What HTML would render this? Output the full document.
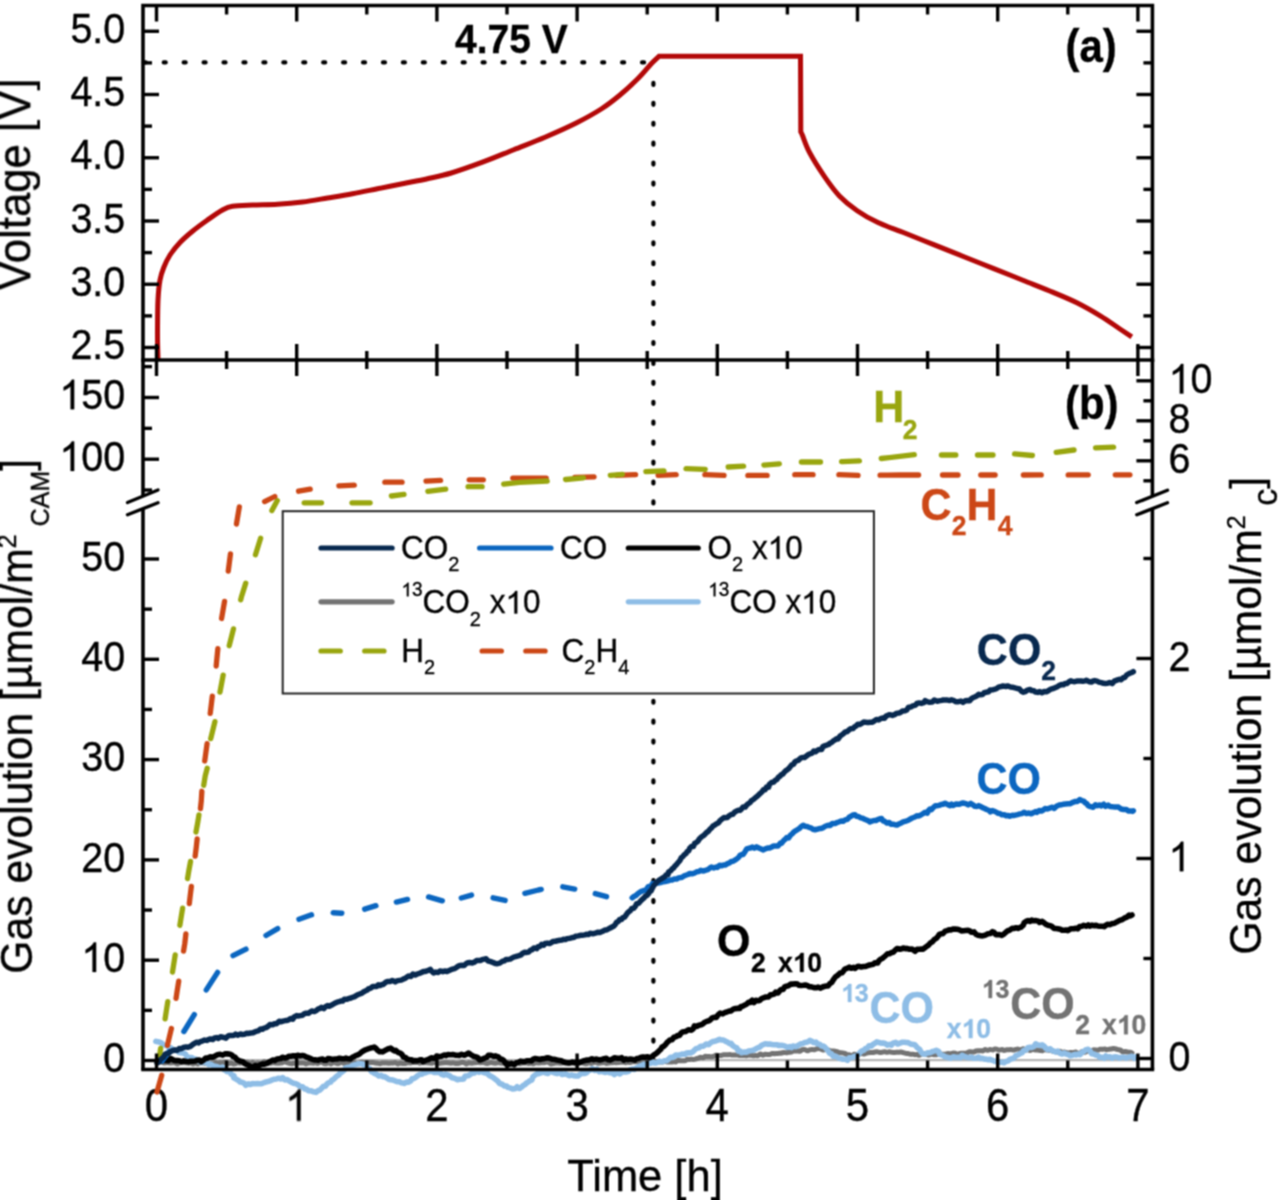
<!DOCTYPE html>
<html><head><meta charset="utf-8"><style>
html,body{margin:0;padding:0;background:#fff;}
svg{display:block;font-family:"Liberation Sans", sans-serif;}
</style></head><body>
<svg width="1280" height="1200" viewBox="0 0 1280 1200">
<defs><filter id="bl" filterUnits="userSpaceOnUse" x="0" y="0" width="1280" height="1200" color-interpolation-filters="sRGB"><feConvolveMatrix order="3" kernelMatrix="1 2 1 2 4 2 1 2 1" edgeMode="duplicate"/></filter></defs>
<rect width="1280" height="1200" fill="#fff"/>
<g filter="url(#bl)">
<text stroke="#000" stroke-width="0.35" transform="matrix(1,0,0,1.085,0,-3.651)" x="125.30" y="42.95" font-size="39.5" text-anchor="end" font-weight="normal" fill="#000" >5.0</text>
<text stroke="#000" stroke-width="0.35" transform="matrix(1,0,0,1.085,0,-9.027)" x="125.30" y="106.20" font-size="39.5" text-anchor="end" font-weight="normal" fill="#000" >4.5</text>
<text stroke="#000" stroke-width="0.35" transform="matrix(1,0,0,1.085,0,-14.403)" x="125.30" y="169.45" font-size="39.5" text-anchor="end" font-weight="normal" fill="#000" >4.0</text>
<text stroke="#000" stroke-width="0.35" transform="matrix(1,0,0,1.085,0,-19.779)" x="125.30" y="232.70" font-size="39.5" text-anchor="end" font-weight="normal" fill="#000" >3.5</text>
<text stroke="#000" stroke-width="0.35" transform="matrix(1,0,0,1.085,0,-25.156)" x="125.30" y="295.95" font-size="39.5" text-anchor="end" font-weight="normal" fill="#000" >3.0</text>
<text stroke="#000" stroke-width="0.35" transform="matrix(1,0,0,1.085,0,-30.532)" x="125.30" y="359.20" font-size="39.5" text-anchor="end" font-weight="normal" fill="#000" >2.5</text>
<text stroke="#000" stroke-width="0.35" transform="matrix(1,0,0,1.085,0,-34.782)" x="125.30" y="409.20" font-size="39.5" text-anchor="end" font-weight="normal" fill="#000" > 50</text>
<text stroke="#000" stroke-width="0.35" transform="matrix(1,0,0,1.085,0,-40.026)" x="125.30" y="470.90" font-size="39.5" text-anchor="end" font-weight="normal" fill="#000" > 00</text>
<text stroke="#000" stroke-width="0.35" transform="matrix(1,0,0,1.085,0,-48.509)" x="125.30" y="570.70" font-size="39.5" text-anchor="end" font-weight="normal" fill="#000" >50</text>
<text stroke="#000" stroke-width="0.35" transform="matrix(1,0,0,1.085,0,-57.035)" x="125.30" y="671.00" font-size="39.5" text-anchor="end" font-weight="normal" fill="#000" >40</text>
<text stroke="#000" stroke-width="0.35" transform="matrix(1,0,0,1.085,0,-65.560)" x="125.30" y="771.30" font-size="39.5" text-anchor="end" font-weight="normal" fill="#000" >30</text>
<text stroke="#000" stroke-width="0.35" transform="matrix(1,0,0,1.085,0,-74.086)" x="125.30" y="871.60" font-size="39.5" text-anchor="end" font-weight="normal" fill="#000" >20</text>
<text stroke="#000" stroke-width="0.35" transform="matrix(1,0,0,1.085,0,-82.611)" x="125.30" y="971.90" font-size="39.5" text-anchor="end" font-weight="normal" fill="#000" > 0</text>
<text stroke="#000" stroke-width="0.35" transform="matrix(1,0,0,1.085,0,-91.137)" x="125.30" y="1072.20" font-size="39.5" text-anchor="end" font-weight="normal" fill="#000" >0</text>
<text stroke="#000" stroke-width="0.35" transform="matrix(1,0,0,1.085,0,-33.447)" x="1168.60" y="393.50" font-size="39.5" text-anchor="start" font-weight="normal" fill="#000" > 0</text>
<text stroke="#000" stroke-width="0.35" transform="matrix(1,0,0,1.085,0,-36.847)" x="1168.60" y="433.50" font-size="39.5" text-anchor="start" font-weight="normal" fill="#000" >8</text>
<text stroke="#000" stroke-width="0.35" transform="matrix(1,0,0,1.085,0,-40.247)" x="1168.60" y="473.50" font-size="39.5" text-anchor="start" font-weight="normal" fill="#000" >6</text>
<text stroke="#000" stroke-width="0.35" transform="matrix(1,0,0,1.085,0,-57.052)" x="1168.60" y="671.20" font-size="39.5" text-anchor="start" font-weight="normal" fill="#000" >2</text>
<text stroke="#000" stroke-width="0.35" transform="matrix(1,0,0,1.085,0,-74.052)" x="1168.60" y="871.20" font-size="39.5" text-anchor="start" font-weight="normal" fill="#000" > </text>
<text stroke="#000" stroke-width="0.35" transform="matrix(1,0,0,1.085,0,-91.052)" x="1168.60" y="1071.20" font-size="39.5" text-anchor="start" font-weight="normal" fill="#000" >0</text>
<text stroke="#000" stroke-width="0.35" transform="matrix(1,0,0,1.085,0,-95.268)" x="156.50" y="1120.80" font-size="42" text-anchor="middle" font-weight="normal" fill="#000" >0</text>
<text stroke="#000" stroke-width="0.35" transform="matrix(1,0,0,1.085,0,-95.268)" x="296.70" y="1120.80" font-size="42" text-anchor="middle" font-weight="normal" fill="#000" > </text>
<text stroke="#000" stroke-width="0.35" transform="matrix(1,0,0,1.085,0,-95.268)" x="436.90" y="1120.80" font-size="42" text-anchor="middle" font-weight="normal" fill="#000" >2</text>
<text stroke="#000" stroke-width="0.35" transform="matrix(1,0,0,1.085,0,-95.268)" x="577.10" y="1120.80" font-size="42" text-anchor="middle" font-weight="normal" fill="#000" >3</text>
<text stroke="#000" stroke-width="0.35" transform="matrix(1,0,0,1.085,0,-95.268)" x="717.30" y="1120.80" font-size="42" text-anchor="middle" font-weight="normal" fill="#000" >4</text>
<text stroke="#000" stroke-width="0.35" transform="matrix(1,0,0,1.085,0,-95.268)" x="857.50" y="1120.80" font-size="42" text-anchor="middle" font-weight="normal" fill="#000" >5</text>
<text stroke="#000" stroke-width="0.35" transform="matrix(1,0,0,1.085,0,-95.268)" x="997.70" y="1120.80" font-size="42" text-anchor="middle" font-weight="normal" fill="#000" >6</text>
<text stroke="#000" stroke-width="0.35" transform="matrix(1,0,0,1.085,0,-95.268)" x="1137.90" y="1120.80" font-size="42" text-anchor="middle" font-weight="normal" fill="#000" >7</text>
<text stroke="#000" stroke-width="0.35" transform="matrix(1,0,0,1.04,0,-47.648)" x="645.00" y="1191.20" font-size="43.5" text-anchor="middle" font-weight="normal" fill="#000" >Time [h]</text>
<text stroke="#000" stroke-width="0.35" transform="translate(29.8,184.3) rotate(-90) scale(1,1.04)" x="0" y="0" font-size="43.8" text-anchor="middle">Voltage [V]</text>
<text stroke="#000" stroke-width="0.35" transform="translate(31.5,973.8) rotate(-90) scale(1,1.04)" x="0" y="0" font-size="42.7">Gas evolution [µmol/m<tspan font-size="25" dy="-15">2</tspan><tspan font-size="25" dy="31.3" dx="8">CAM</tspan><tspan dy="-16.3">]</tspan></text>
<text stroke="#000" stroke-width="0.35" transform="translate(1261,954.7) rotate(-90) scale(1,1.04)" x="0" y="0" font-size="42.7">Gas evolution [µmol/m<tspan font-size="25" dy="-15.75">2</tspan><tspan font-size="34" dy="30.75" dx="9.5">c</tspan><tspan dy="-15">]</tspan></text>
<line x1="143.8" y1="62.4" x2="650" y2="62.4" stroke="#000" stroke-width="4.2" stroke-linecap="round" stroke-dasharray="2 17.93"/>
<line x1="653.4" y1="82.9" x2="653.4" y2="1066" stroke="#000" stroke-width="4.2" stroke-linecap="round" stroke-dasharray="2 17.93"/>
<path d="M158.00,359.00 C157.93,356.67 157.68,349.83 157.60,345.00 C157.52,340.17 157.43,337.50 157.50,330.00 C157.57,322.50 157.58,308.33 158.00,300.00 C158.42,291.67 159.04,285.42 160.00,280.00 C160.96,274.58 162.08,271.67 163.75,267.50 C165.42,263.33 167.29,259.17 170.00,255.00 C172.71,250.83 176.25,246.46 180.00,242.50 C183.75,238.54 187.92,235.00 192.50,231.25 C197.08,227.50 202.50,223.54 207.50,220.00 C212.50,216.46 218.33,212.29 222.50,210.00 C226.67,207.71 227.50,207.08 232.50,206.25 C237.50,205.42 245.00,205.33 252.50,205.00 C260.00,204.67 269.17,204.75 277.50,204.25 C285.83,203.75 294.17,203.04 302.50,202.00 C310.83,200.96 319.17,199.38 327.50,198.00 C335.83,196.62 344.17,195.29 352.50,193.75 C360.83,192.21 369.17,190.42 377.50,188.75 C385.83,187.08 394.17,185.42 402.50,183.75 C410.83,182.08 419.38,180.54 427.50,178.75 C435.62,176.96 442.08,175.76 451.25,173.00 C460.42,170.24 472.08,166.08 482.50,162.20 C492.92,158.32 503.33,153.87 513.75,149.70 C524.17,145.53 534.58,141.65 545.00,137.20 C555.42,132.75 566.88,127.70 576.25,123.00 C585.62,118.30 593.96,113.67 601.25,109.00 C608.54,104.33 613.75,100.20 620.00,95.00 C626.25,89.80 633.54,83.01 638.75,77.80 C643.96,72.59 647.88,67.33 651.25,63.75 C654.62,60.17 657.71,57.54 659.00,56.30 L800.5,56.3 L800.8,132 L800.80,132.00 C801.05,132.50 800.82,131.53 802.30,135.00 C803.78,138.47 806.00,145.87 809.70,152.80 C813.40,159.73 819.55,169.42 824.50,176.60 C829.45,183.78 833.95,190.22 839.40,195.90 C844.85,201.58 850.77,206.25 857.20,210.70 C863.63,215.15 870.08,218.88 878.00,222.60 C885.92,226.32 895.30,229.28 904.70,233.00 C914.10,236.72 924.52,240.95 934.40,244.90 C944.28,248.85 954.10,252.75 964.00,256.70 C973.90,260.65 983.88,264.63 993.80,268.60 C1003.72,272.57 1013.60,276.53 1023.50,280.50 C1033.40,284.47 1044.30,288.68 1053.20,292.40 C1062.10,296.12 1068.98,298.85 1076.90,302.80 C1084.82,306.75 1093.77,311.90 1100.70,316.10 C1107.63,320.30 1113.32,324.53 1118.50,328.00 C1123.68,331.47 1129.58,335.42 1131.80,336.90" fill="none" stroke="#b30808" stroke-width="5.0" stroke-linecap="butt" stroke-linejoin="miter" />
<line x1="157.00" y1="1060.20" x2="1138.00" y2="1060.20" stroke="#b5b5b5" stroke-width="2.2" stroke-linecap="butt" />
<path d="M156.73,1062.48 C157.18,1062.40 158.62,1062.05 159.41,1061.97 C160.21,1061.88 160.72,1061.80 161.49,1061.98 C162.26,1062.17 163.23,1062.96 164.04,1063.09 C164.85,1063.22 165.63,1062.81 166.36,1062.77 C167.09,1062.74 167.73,1062.82 168.41,1062.87 C169.08,1062.92 169.72,1063.07 170.41,1063.07 C171.11,1063.06 171.75,1062.85 172.56,1062.84 C173.37,1062.83 174.48,1062.84 175.26,1063.03 C176.05,1063.22 176.55,1064.03 177.28,1063.99 C178.01,1063.94 178.87,1062.94 179.64,1062.74 C180.42,1062.53 181.19,1062.75 181.93,1062.76 C182.67,1062.78 183.25,1062.80 184.07,1062.84 C184.90,1062.88 186.10,1062.93 186.88,1063.01 C187.65,1063.09 187.97,1063.32 188.72,1063.30 C189.48,1063.28 190.68,1062.76 191.40,1062.90 C192.13,1063.03 192.45,1064.12 193.07,1064.11 C193.69,1064.10 194.34,1062.85 195.15,1062.83 C195.95,1062.82 197.11,1064.18 197.89,1064.03 C198.66,1063.87 199.04,1062.12 199.79,1061.91 C200.53,1061.70 201.61,1062.55 202.37,1062.77 C203.13,1062.98 203.63,1063.15 204.36,1063.21 C205.08,1063.27 205.98,1063.07 206.72,1063.13 C207.46,1063.19 208.00,1063.60 208.79,1063.58 C209.58,1063.56 210.71,1063.06 211.45,1063.01 C212.19,1062.97 212.53,1063.41 213.23,1063.33 C213.93,1063.25 214.92,1062.51 215.66,1062.53 C216.40,1062.56 216.96,1063.42 217.67,1063.47 C218.39,1063.53 219.21,1062.93 219.98,1062.85 C220.74,1062.77 221.53,1063.11 222.27,1062.98 C223.01,1062.86 223.65,1062.11 224.44,1062.13 C225.24,1062.15 226.35,1062.87 227.06,1063.09 C227.77,1063.31 228.00,1063.45 228.69,1063.44 C229.38,1063.43 230.37,1062.91 231.18,1063.01 C231.99,1063.10 232.82,1063.90 233.57,1064.02 C234.32,1064.13 234.90,1063.96 235.68,1063.71 C236.46,1063.47 237.56,1062.60 238.26,1062.54 C238.96,1062.48 239.29,1063.29 239.88,1063.35 C240.48,1063.41 241.03,1062.86 241.84,1062.88 C242.65,1062.90 243.91,1063.59 244.74,1063.47 C245.56,1063.35 246.02,1062.18 246.80,1062.15 C247.58,1062.11 248.67,1063.07 249.42,1063.25 C250.17,1063.43 250.70,1063.37 251.28,1063.22 C251.87,1063.07 252.28,1062.25 252.95,1062.35 C253.61,1062.46 254.51,1063.77 255.28,1063.86 C256.06,1063.95 256.81,1062.99 257.59,1062.89 C258.37,1062.79 259.15,1063.22 259.94,1063.26 C260.73,1063.30 261.63,1063.40 262.33,1063.12 C263.04,1062.84 263.43,1061.59 264.16,1061.59 C264.89,1061.59 265.87,1062.89 266.70,1063.12 C267.54,1063.35 268.45,1062.94 269.17,1062.95 C269.88,1062.96 270.34,1063.26 270.97,1063.18 C271.61,1063.11 272.26,1062.54 272.98,1062.53 C273.71,1062.52 274.45,1062.99 275.33,1063.13 C276.21,1063.26 277.43,1063.35 278.25,1063.34 C279.07,1063.34 279.58,1063.20 280.26,1063.11 C280.93,1063.02 281.60,1063.00 282.29,1062.80 C282.97,1062.60 283.70,1061.97 284.38,1061.91 C285.07,1061.84 285.61,1062.19 286.40,1062.42 C287.18,1062.65 288.25,1063.09 289.08,1063.30 C289.91,1063.51 290.67,1063.67 291.37,1063.70 C292.07,1063.73 292.49,1063.59 293.26,1063.47 C294.04,1063.36 295.20,1063.09 296.00,1063.00 C296.79,1062.90 297.42,1062.92 298.02,1062.93 C298.63,1062.94 298.97,1063.03 299.64,1063.05 C300.31,1063.07 301.25,1063.03 302.04,1063.05 C302.82,1063.06 303.65,1063.00 304.34,1063.14 C305.03,1063.29 305.38,1063.99 306.19,1063.94 C306.99,1063.89 308.41,1063.00 309.19,1062.84 C309.98,1062.69 310.19,1062.94 310.91,1063.00 C311.62,1063.06 312.70,1063.34 313.49,1063.19 C314.28,1063.04 314.97,1062.04 315.65,1062.11 C316.32,1062.18 316.79,1063.57 317.52,1063.60 C318.26,1063.64 319.30,1062.52 320.05,1062.32 C320.80,1062.11 321.33,1062.15 322.03,1062.35 C322.72,1062.55 323.45,1063.34 324.21,1063.53 C324.98,1063.73 325.83,1063.71 326.62,1063.51 C327.40,1063.31 328.21,1062.23 328.93,1062.32 C329.66,1062.41 330.26,1064.01 330.96,1064.04 C331.67,1064.08 332.35,1062.69 333.16,1062.52 C333.97,1062.35 335.07,1062.85 335.84,1063.04 C336.61,1063.23 337.15,1063.65 337.78,1063.67 C338.40,1063.70 338.90,1063.41 339.60,1063.19 C340.30,1062.97 341.20,1062.30 341.98,1062.36 C342.76,1062.41 343.48,1063.56 344.26,1063.53 C345.03,1063.50 345.90,1062.13 346.63,1062.16 C347.36,1062.19 347.85,1063.64 348.63,1063.70 C349.42,1063.76 350.47,1062.64 351.35,1062.50 C352.22,1062.35 353.23,1062.76 353.89,1062.83 C354.55,1062.90 354.60,1062.79 355.28,1062.94 C355.96,1063.09 357.17,1063.76 357.99,1063.74 C358.82,1063.72 359.55,1063.04 360.24,1062.80 C360.92,1062.57 361.39,1062.34 362.09,1062.33 C362.79,1062.32 363.66,1062.71 364.43,1062.73 C365.20,1062.74 366.00,1062.44 366.72,1062.42 C367.45,1062.40 368.08,1062.59 368.77,1062.59 C369.46,1062.60 370.11,1062.48 370.83,1062.46 C371.56,1062.43 372.29,1062.36 373.10,1062.46 C373.91,1062.55 374.96,1062.92 375.69,1063.05 C376.42,1063.18 376.74,1063.13 377.47,1063.24 C378.20,1063.34 379.28,1063.73 380.07,1063.67 C380.85,1063.62 381.47,1063.01 382.18,1062.90 C382.88,1062.80 383.52,1063.03 384.29,1063.06 C385.05,1063.09 386.02,1063.05 386.78,1063.08 C387.54,1063.11 388.11,1063.25 388.83,1063.26 C389.56,1063.27 390.42,1063.14 391.13,1063.11 C391.85,1063.09 392.42,1063.18 393.12,1063.10 C393.82,1063.01 394.54,1062.47 395.33,1062.61 C396.11,1062.76 397.00,1063.90 397.81,1063.97 C398.63,1064.03 399.50,1063.09 400.23,1063.00 C400.96,1062.92 401.43,1063.36 402.18,1063.45 C402.94,1063.55 404.02,1063.62 404.76,1063.56 C405.50,1063.50 405.95,1063.20 406.62,1063.09 C407.30,1062.97 408.10,1062.90 408.81,1062.87 C409.53,1062.83 410.24,1062.96 410.91,1062.89 C411.59,1062.82 412.05,1062.50 412.84,1062.45 C413.63,1062.40 414.81,1062.58 415.65,1062.57 C416.50,1062.57 417.19,1062.30 417.90,1062.40 C418.61,1062.51 419.23,1063.14 419.92,1063.18 C420.60,1063.23 421.13,1062.75 421.98,1062.67 C422.83,1062.59 424.26,1062.68 425.01,1062.69 C425.77,1062.70 425.86,1062.69 426.50,1062.74 C427.15,1062.79 428.09,1062.88 428.90,1062.99 C429.70,1063.09 430.61,1063.39 431.34,1063.36 C432.06,1063.34 432.59,1063.01 433.24,1062.84 C433.89,1062.66 434.50,1062.23 435.23,1062.31 C435.96,1062.39 436.81,1063.16 437.61,1063.34 C438.41,1063.51 439.22,1063.44 440.03,1063.37 C440.83,1063.30 441.62,1063.03 442.44,1062.92 C443.26,1062.82 444.25,1062.78 444.93,1062.76 C445.61,1062.74 445.82,1062.77 446.52,1062.80 C447.23,1062.83 448.41,1062.87 449.15,1062.94 C449.89,1063.00 450.20,1063.20 450.94,1063.20 C451.68,1063.20 452.83,1062.90 453.59,1062.95 C454.35,1063.00 454.76,1063.42 455.50,1063.50 C456.23,1063.58 457.28,1063.50 458.00,1063.43 C458.73,1063.37 459.11,1063.34 459.82,1063.13 C460.54,1062.92 461.49,1062.19 462.31,1062.17 C463.12,1062.16 464.01,1062.73 464.72,1063.05 C465.43,1063.36 465.89,1064.10 466.59,1064.04 C467.29,1063.98 468.17,1062.80 468.92,1062.67 C469.67,1062.54 470.33,1063.21 471.10,1063.26 C471.86,1063.31 472.81,1063.07 473.52,1062.97 C474.23,1062.88 474.68,1062.76 475.36,1062.68 C476.04,1062.60 476.82,1062.50 477.59,1062.52 C478.36,1062.53 479.22,1062.76 480.00,1062.77 C480.77,1062.79 481.53,1062.60 482.23,1062.62 C482.94,1062.64 483.52,1062.76 484.25,1062.91 C484.97,1063.07 485.85,1063.50 486.59,1063.53 C487.33,1063.56 487.93,1063.28 488.68,1063.09 C489.43,1062.91 490.30,1062.40 491.10,1062.40 C491.90,1062.40 492.84,1062.93 493.50,1063.08 C494.16,1063.22 494.32,1063.35 495.07,1063.28 C495.82,1063.20 497.11,1062.67 497.99,1062.63 C498.88,1062.60 499.73,1062.97 500.39,1063.07 C501.05,1063.18 501.30,1063.37 501.96,1063.26 C502.62,1063.14 503.66,1062.41 504.36,1062.39 C505.06,1062.36 505.45,1062.96 506.17,1063.11 C506.90,1063.26 507.88,1063.35 508.72,1063.30 C509.56,1063.24 510.45,1062.68 511.20,1062.76 C511.95,1062.85 512.42,1063.71 513.21,1063.81 C514.00,1063.91 515.20,1063.56 515.95,1063.35 C516.69,1063.13 517.04,1062.48 517.70,1062.55 C518.36,1062.62 519.14,1063.71 519.91,1063.76 C520.68,1063.82 521.62,1062.98 522.33,1062.87 C523.04,1062.75 523.47,1063.05 524.16,1063.08 C524.85,1063.10 525.65,1062.94 526.47,1063.01 C527.28,1063.07 528.28,1063.52 529.06,1063.49 C529.84,1063.46 530.42,1062.79 531.14,1062.84 C531.86,1062.90 532.64,1063.91 533.39,1063.83 C534.14,1063.75 534.85,1062.48 535.64,1062.36 C536.43,1062.24 537.27,1063.04 538.13,1063.12 C538.99,1063.19 540.12,1062.83 540.80,1062.79 C541.48,1062.74 541.58,1062.87 542.20,1062.86 C542.82,1062.86 543.84,1062.86 544.53,1062.73 C545.22,1062.61 545.61,1062.11 546.33,1062.12 C547.05,1062.12 548.09,1062.46 548.86,1062.76 C549.64,1063.07 550.20,1063.85 550.98,1063.97 C551.75,1064.09 552.77,1063.64 553.52,1063.50 C554.26,1063.36 554.74,1063.24 555.44,1063.14 C556.14,1063.04 556.94,1062.88 557.73,1062.91 C558.52,1062.93 559.41,1063.25 560.17,1063.28 C560.93,1063.30 561.63,1063.17 562.29,1063.07 C562.95,1062.97 563.37,1062.70 564.11,1062.66 C564.86,1062.62 565.99,1062.75 566.75,1062.83 C567.52,1062.92 568.02,1063.19 568.71,1063.16 C569.40,1063.14 570.10,1062.75 570.90,1062.69 C571.70,1062.64 572.70,1062.74 573.54,1062.84 C574.37,1062.93 575.14,1063.13 575.88,1063.24 C576.62,1063.35 577.36,1063.56 577.96,1063.52 C578.57,1063.47 578.85,1063.09 579.51,1062.96 C580.17,1062.84 581.11,1062.69 581.93,1062.79 C582.75,1062.89 583.63,1063.41 584.42,1063.57 C585.21,1063.73 585.93,1063.85 586.66,1063.75 C587.38,1063.65 588.02,1063.03 588.77,1062.97 C589.51,1062.92 590.37,1063.47 591.13,1063.43 C591.89,1063.39 592.60,1062.90 593.32,1062.72 C594.05,1062.54 594.69,1062.26 595.48,1062.36 C596.27,1062.46 597.30,1063.21 598.07,1063.34 C598.83,1063.47 599.41,1063.22 600.10,1063.13 C600.78,1063.03 601.38,1062.86 602.16,1062.77 C602.94,1062.67 604.02,1062.41 604.78,1062.54 C605.54,1062.67 605.93,1063.50 606.72,1063.57 C607.52,1063.63 608.74,1063.06 609.56,1062.93 C610.37,1062.81 610.86,1062.91 611.62,1062.84 C612.38,1062.76 613.38,1062.49 614.12,1062.50 C614.87,1062.50 615.35,1062.87 616.12,1062.87 C616.89,1062.87 617.96,1062.58 618.73,1062.49 C619.50,1062.40 620.07,1062.37 620.75,1062.33 C621.44,1062.28 622.09,1062.12 622.85,1062.20 C623.61,1062.29 624.55,1062.87 625.32,1062.85 C626.08,1062.84 626.69,1062.18 627.44,1062.13 C628.19,1062.07 628.99,1062.58 629.81,1062.51 C630.63,1062.44 631.56,1061.85 632.36,1061.73 C633.15,1061.61 633.81,1061.79 634.58,1061.80 C635.35,1061.80 636.25,1061.76 636.96,1061.76 C637.67,1061.77 638.12,1061.85 638.85,1061.83 C639.59,1061.81 640.57,1061.60 641.39,1061.65 C642.20,1061.70 642.98,1062.04 643.75,1062.12 C644.52,1062.20 645.22,1062.20 646.02,1062.12 C646.82,1062.04 647.76,1061.66 648.53,1061.63 C649.31,1061.59 650.00,1061.83 650.67,1061.90 C651.33,1061.97 651.79,1062.12 652.54,1062.05 C653.28,1061.99 654.32,1061.54 655.16,1061.51 C656.00,1061.47 656.75,1061.76 657.57,1061.84 C658.39,1061.91 659.31,1061.94 660.07,1061.97 C660.84,1062.00 661.40,1062.10 662.18,1062.02 C662.96,1061.94 663.96,1061.50 664.76,1061.49 C665.56,1061.48 666.22,1061.92 667.00,1061.99 C667.77,1062.06 668.65,1061.89 669.43,1061.90 C670.21,1061.91 670.85,1062.09 671.69,1062.06 C672.54,1062.02 673.80,1061.72 674.50,1061.70 C675.20,1061.69 675.24,1062.21 675.88,1061.97 C676.52,1061.73 677.63,1060.47 678.35,1060.27 C679.06,1060.07 679.37,1060.70 680.18,1060.78 C680.98,1060.85 682.37,1060.76 683.19,1060.73 C684.01,1060.71 684.40,1060.85 685.10,1060.63 C685.80,1060.40 686.64,1059.60 687.40,1059.40 C688.17,1059.21 688.92,1059.49 689.67,1059.46 C690.42,1059.43 691.24,1059.24 691.91,1059.24 C692.57,1059.24 692.92,1059.54 693.64,1059.46 C694.36,1059.38 695.44,1058.95 696.24,1058.74 C697.04,1058.53 697.67,1058.48 698.43,1058.22 C699.19,1057.95 700.01,1057.19 700.80,1057.13 C701.59,1057.06 702.46,1057.96 703.17,1057.82 C703.88,1057.68 704.36,1056.50 705.06,1056.28 C705.77,1056.07 706.62,1056.49 707.41,1056.54 C708.20,1056.60 708.98,1056.60 709.81,1056.61 C710.64,1056.62 711.66,1056.69 712.39,1056.60 C713.12,1056.51 713.63,1056.30 714.21,1056.08 C714.78,1055.86 715.13,1055.40 715.85,1055.29 C716.57,1055.19 717.67,1055.43 718.54,1055.45 C719.41,1055.47 720.25,1055.51 721.07,1055.40 C721.89,1055.29 722.71,1054.88 723.46,1054.79 C724.21,1054.70 724.85,1054.83 725.57,1054.84 C726.28,1054.85 727.02,1054.89 727.75,1054.84 C728.48,1054.80 729.17,1054.56 729.94,1054.60 C730.70,1054.63 731.55,1055.03 732.33,1055.08 C733.12,1055.13 733.78,1054.87 734.65,1054.88 C735.53,1054.89 736.80,1055.04 737.60,1055.14 C738.41,1055.24 738.83,1055.42 739.48,1055.46 C740.12,1055.51 740.68,1055.43 741.47,1055.42 C742.26,1055.41 743.35,1055.37 744.21,1055.42 C745.06,1055.46 745.80,1055.73 746.60,1055.69 C747.40,1055.65 748.23,1055.23 748.99,1055.17 C749.75,1055.11 750.38,1055.24 751.16,1055.34 C751.94,1055.43 752.96,1055.73 753.68,1055.76 C754.40,1055.79 754.76,1055.53 755.46,1055.51 C756.16,1055.49 757.06,1055.91 757.87,1055.66 C758.69,1055.41 759.57,1054.07 760.37,1054.00 C761.18,1053.92 761.90,1055.16 762.71,1055.20 C763.52,1055.24 764.40,1054.33 765.22,1054.22 C766.05,1054.10 766.82,1054.48 767.65,1054.52 C768.47,1054.55 769.41,1054.61 770.18,1054.43 C770.95,1054.24 771.54,1053.55 772.28,1053.43 C773.02,1053.30 773.84,1053.67 774.61,1053.68 C775.38,1053.69 776.18,1053.55 776.90,1053.49 C777.63,1053.43 778.19,1053.41 778.97,1053.33 C779.75,1053.24 780.76,1053.14 781.58,1053.00 C782.40,1052.86 783.11,1052.52 783.90,1052.48 C784.69,1052.43 785.55,1052.76 786.32,1052.73 C787.09,1052.70 787.79,1052.40 788.53,1052.30 C789.27,1052.19 789.98,1052.30 790.77,1052.11 C791.56,1051.91 792.43,1051.29 793.28,1051.12 C794.14,1050.94 795.10,1051.14 795.88,1051.06 C796.66,1050.98 797.31,1050.60 797.98,1050.64 C798.65,1050.68 799.19,1051.44 799.91,1051.29 C800.64,1051.14 801.49,1050.02 802.33,1049.74 C803.17,1049.47 804.11,1049.47 804.94,1049.65 C805.76,1049.83 806.51,1050.80 807.28,1050.83 C808.06,1050.86 808.77,1050.07 809.58,1049.85 C810.39,1049.62 811.35,1049.49 812.14,1049.47 C812.93,1049.44 813.57,1049.80 814.33,1049.70 C815.09,1049.60 815.89,1049.07 816.68,1048.86 C817.47,1048.65 818.27,1048.37 819.07,1048.46 C819.86,1048.54 820.66,1049.13 821.46,1049.38 C822.26,1049.64 823.05,1050.03 823.87,1049.99 C824.70,1049.96 825.68,1049.14 826.42,1049.17 C827.16,1049.19 827.60,1049.85 828.29,1050.13 C828.98,1050.41 829.77,1050.70 830.56,1050.86 C831.36,1051.01 832.33,1051.01 833.08,1051.06 C833.84,1051.11 834.30,1051.01 835.09,1051.16 C835.87,1051.31 836.96,1051.72 837.79,1051.98 C838.61,1052.23 839.24,1052.56 840.01,1052.71 C840.79,1052.86 841.57,1052.72 842.44,1052.88 C843.31,1053.03 844.40,1053.32 845.22,1053.64 C846.04,1053.95 846.59,1054.59 847.34,1054.79 C848.10,1054.99 849.04,1054.67 849.77,1054.86 C850.49,1055.04 850.92,1056.00 851.68,1055.90 C852.43,1055.79 853.58,1054.43 854.30,1054.21 C855.01,1053.99 855.24,1054.57 855.99,1054.58 C856.75,1054.59 857.93,1054.45 858.83,1054.27 C859.72,1054.09 860.45,1053.58 861.34,1053.52 C862.23,1053.46 863.36,1053.97 864.18,1053.91 C864.99,1053.86 865.61,1053.39 866.21,1053.20 C866.82,1053.00 867.09,1052.88 867.80,1052.74 C868.51,1052.61 869.63,1052.44 870.48,1052.40 C871.33,1052.35 872.15,1052.56 872.91,1052.50 C873.68,1052.44 874.30,1052.14 875.08,1052.04 C875.87,1051.93 876.83,1051.79 877.62,1051.87 C878.42,1051.94 879.01,1052.43 879.86,1052.47 C880.71,1052.51 881.90,1052.23 882.73,1052.11 C883.56,1051.98 884.13,1051.65 884.82,1051.69 C885.51,1051.73 886.11,1052.34 886.88,1052.35 C887.65,1052.35 888.63,1051.76 889.45,1051.74 C890.27,1051.73 890.99,1052.12 891.79,1052.26 C892.60,1052.41 893.51,1052.62 894.29,1052.62 C895.07,1052.61 895.73,1052.31 896.47,1052.25 C897.22,1052.20 898.03,1052.31 898.76,1052.28 C899.49,1052.25 900.14,1052.03 900.87,1052.07 C901.59,1052.12 902.30,1052.34 903.11,1052.56 C903.92,1052.78 904.95,1053.23 905.73,1053.39 C906.51,1053.56 907.00,1053.40 907.80,1053.54 C908.60,1053.67 909.71,1054.12 910.54,1054.22 C911.37,1054.32 912.02,1054.06 912.78,1054.14 C913.53,1054.21 914.34,1054.60 915.07,1054.68 C915.80,1054.76 916.44,1054.51 917.15,1054.60 C917.86,1054.70 918.45,1055.43 919.32,1055.26 C920.20,1055.08 921.54,1053.79 922.38,1053.56 C923.23,1053.33 923.72,1053.75 924.40,1053.87 C925.08,1054.00 925.70,1054.13 926.47,1054.32 C927.23,1054.50 928.18,1055.01 929.00,1054.96 C929.83,1054.91 930.61,1054.05 931.42,1054.01 C932.23,1053.96 933.03,1054.56 933.86,1054.68 C934.69,1054.80 935.67,1054.81 936.40,1054.72 C937.13,1054.63 937.48,1054.23 938.23,1054.13 C938.97,1054.03 939.99,1054.11 940.86,1054.12 C941.72,1054.14 942.63,1054.23 943.41,1054.22 C944.20,1054.22 944.82,1054.22 945.58,1054.09 C946.34,1053.96 947.09,1053.52 947.96,1053.47 C948.82,1053.42 950.01,1053.82 950.76,1053.76 C951.52,1053.70 951.78,1053.21 952.49,1053.11 C953.19,1053.01 954.16,1052.98 954.98,1053.16 C955.80,1053.34 956.61,1054.16 957.42,1054.18 C958.23,1054.21 959.01,1053.48 959.83,1053.34 C960.65,1053.20 961.57,1053.33 962.33,1053.33 C963.09,1053.33 963.67,1053.36 964.39,1053.32 C965.10,1053.29 965.90,1053.38 966.63,1053.13 C967.37,1052.88 967.96,1052.01 968.80,1051.81 C969.65,1051.61 970.87,1051.88 971.68,1051.92 C972.49,1051.96 972.96,1052.19 973.68,1052.04 C974.40,1051.89 975.21,1051.23 975.99,1051.02 C976.78,1050.81 977.58,1050.84 978.39,1050.77 C979.21,1050.71 980.12,1050.64 980.90,1050.65 C981.68,1050.66 982.36,1051.03 983.06,1050.83 C983.76,1050.64 984.30,1049.56 985.11,1049.48 C985.93,1049.40 987.12,1050.35 987.96,1050.35 C988.80,1050.35 989.36,1049.54 990.16,1049.48 C990.96,1049.43 991.93,1050.10 992.75,1050.02 C993.56,1049.94 994.31,1049.11 995.04,1048.99 C995.77,1048.88 996.43,1049.16 997.13,1049.34 C997.83,1049.51 998.44,1050.01 999.25,1050.05 C1000.07,1050.09 1001.19,1049.53 1002.00,1049.58 C1002.81,1049.64 1003.34,1050.38 1004.12,1050.40 C1004.90,1050.43 1005.85,1049.83 1006.66,1049.74 C1007.47,1049.65 1008.26,1049.87 1008.97,1049.84 C1009.68,1049.81 1010.14,1049.53 1010.92,1049.57 C1011.69,1049.60 1012.82,1050.09 1013.61,1050.07 C1014.39,1050.05 1014.88,1049.59 1015.63,1049.44 C1016.38,1049.28 1017.25,1049.03 1018.12,1049.12 C1018.98,1049.22 1019.99,1050.04 1020.84,1049.99 C1021.69,1049.95 1022.52,1048.73 1023.24,1048.83 C1023.95,1048.93 1024.43,1050.57 1025.12,1050.60 C1025.80,1050.62 1026.51,1049.00 1027.34,1048.99 C1028.16,1048.97 1029.16,1050.42 1030.05,1050.49 C1030.93,1050.56 1031.79,1049.49 1032.64,1049.42 C1033.48,1049.35 1034.30,1049.96 1035.12,1050.07 C1035.94,1050.19 1036.71,1050.04 1037.55,1050.12 C1038.40,1050.19 1039.35,1050.41 1040.18,1050.51 C1041.01,1050.60 1041.82,1050.83 1042.52,1050.69 C1043.23,1050.54 1043.70,1049.73 1044.41,1049.62 C1045.12,1049.50 1045.95,1049.87 1046.78,1050.00 C1047.61,1050.12 1048.74,1050.32 1049.39,1050.37 C1050.04,1050.42 1050.03,1050.10 1050.70,1050.29 C1051.37,1050.47 1052.58,1051.23 1053.42,1051.46 C1054.25,1051.69 1055.00,1051.56 1055.70,1051.68 C1056.39,1051.79 1056.91,1052.19 1057.60,1052.13 C1058.29,1052.07 1059.04,1051.29 1059.84,1051.33 C1060.65,1051.36 1061.69,1052.21 1062.42,1052.34 C1063.15,1052.47 1063.49,1052.04 1064.23,1052.10 C1064.98,1052.17 1066.16,1052.60 1066.89,1052.74 C1067.63,1052.88 1068.04,1052.95 1068.65,1052.93 C1069.26,1052.90 1069.74,1052.64 1070.53,1052.59 C1071.33,1052.53 1072.57,1052.70 1073.42,1052.61 C1074.26,1052.52 1074.86,1051.98 1075.58,1052.06 C1076.30,1052.14 1077.04,1052.94 1077.75,1053.10 C1078.45,1053.27 1079.05,1053.31 1079.79,1053.06 C1080.53,1052.80 1081.43,1051.67 1082.18,1051.55 C1082.93,1051.44 1083.62,1052.34 1084.31,1052.36 C1085.00,1052.38 1085.54,1051.96 1086.32,1051.67 C1087.09,1051.39 1088.17,1050.73 1088.96,1050.65 C1089.75,1050.57 1090.30,1051.30 1091.05,1051.17 C1091.81,1051.04 1092.70,1050.08 1093.49,1049.89 C1094.28,1049.70 1095.06,1050.00 1095.78,1050.04 C1096.50,1050.07 1097.07,1050.26 1097.80,1050.11 C1098.53,1049.96 1099.38,1049.30 1100.16,1049.16 C1100.94,1049.02 1101.72,1049.33 1102.50,1049.29 C1103.28,1049.26 1104.19,1048.88 1104.85,1048.95 C1105.51,1049.01 1105.72,1049.64 1106.46,1049.69 C1107.21,1049.73 1108.49,1049.35 1109.32,1049.23 C1110.15,1049.11 1110.70,1049.07 1111.44,1048.96 C1112.17,1048.85 1112.95,1048.56 1113.74,1048.58 C1114.52,1048.59 1115.45,1048.85 1116.17,1049.04 C1116.89,1049.22 1117.35,1049.50 1118.07,1049.69 C1118.79,1049.87 1119.68,1049.76 1120.50,1050.13 C1121.31,1050.50 1122.24,1051.69 1122.98,1051.91 C1123.71,1052.13 1124.14,1051.44 1124.90,1051.47 C1125.67,1051.49 1126.73,1051.91 1127.59,1052.04 C1128.44,1052.17 1129.31,1052.08 1130.04,1052.24 C1130.78,1052.40 1131.67,1052.87 1132.00,1053.00" fill="none" stroke="#737373" stroke-width="5.0" stroke-linecap="round" stroke-linejoin="round" />
<polyline points="155.9,1041.3 156.8,1041.6 159.9,1042.3 161.9,1043.3 162.8,1044.6 164.9,1045.1 166.6,1045.6 168.5,1047.1 170.5,1047.7 172.9,1049.7 175.0,1050.4 176.9,1050.6 178.9,1052.4 181.2,1052.7 183.0,1052.9 185.2,1053.8 187.1,1056.7 189.0,1057.4 191.8,1057.6 193.8,1058.9 195.7,1059.2 196.7,1059.6 199.3,1061.2 201.1,1062.7 202.2,1062.1 204.2,1062.2 207.5,1063.0 208.5,1064.6 211.0,1064.3 213.0,1065.7 214.9,1066.3 217.5,1066.7 219.6,1068.2 222.4,1067.2 224.3,1069.9 225.5,1070.2 227.1,1071.6 229.7,1072.0 230.7,1073.6 231.7,1074.7 234.0,1075.8 233.8,1077.9 236.4,1079.3 238.1,1080.2 240.2,1082.0 241.9,1082.2 244.6,1083.6 245.7,1085.3 248.3,1083.9 250.0,1084.5 252.5,1083.6 254.7,1083.7 257.7,1083.5 259.2,1083.8 261.6,1083.6 264.4,1082.5 266.2,1081.9 267.9,1081.6 270.7,1080.6 272.4,1079.8 274.3,1079.2 276.5,1078.9 278.6,1078.2 281.0,1079.0 282.6,1077.6 285.0,1079.9 287.1,1079.5 289.3,1081.0 291.3,1082.2 293.6,1083.3 296.0,1083.8 297.6,1084.5 300.1,1086.5 302.5,1086.8 304.7,1089.0 306.5,1089.1 308.3,1090.7 311.3,1090.9 313.6,1091.8 316.0,1092.4 318.1,1090.6 319.6,1090.3 321.2,1088.7 323.5,1086.3 325.3,1086.3 327.2,1083.7 328.8,1082.6 330.6,1082.1 332.1,1079.9 333.5,1079.5 335.0,1077.8 337.0,1076.0 339.0,1074.9 340.3,1072.5 341.2,1072.6 344.0,1070.3 345.6,1068.0 347.3,1067.4 349.3,1067.5 351.1,1066.4 352.7,1065.2 355.0,1064.8 357.2,1064.1 359.4,1063.8 361.2,1063.8 363.5,1064.5 365.1,1065.4 366.4,1065.3 367.6,1068.0 369.5,1068.5 371.4,1071.6 372.6,1072.1 374.9,1073.6 376.2,1074.0 378.9,1076.0 381.1,1075.4 382.7,1076.6 384.3,1076.5 387.1,1078.2 389.0,1079.5 390.6,1079.7 392.9,1080.0 395.1,1080.9 397.1,1081.6 399.7,1081.8 401.4,1082.8 402.9,1083.1 404.4,1083.4 406.5,1082.0 408.7,1082.1 410.6,1081.1 412.0,1078.8 413.9,1078.4 415.3,1077.8 417.7,1075.6 419.9,1074.3 421.6,1074.3 423.6,1073.1 425.7,1072.7 427.8,1071.8 430.0,1071.2 432.9,1071.7 434.3,1072.4 437.8,1072.3 439.8,1072.4 441.4,1074.3 443.9,1075.1 445.4,1074.1 448.0,1075.1 449.8,1075.9 451.9,1077.7 454.0,1078.1 455.6,1078.8 457.4,1079.7 459.5,1079.2 461.8,1079.2 463.7,1078.9 465.2,1076.0 468.1,1075.7 469.9,1074.7 471.9,1073.3 474.2,1073.0 476.5,1071.2 479.0,1072.2 480.3,1071.3 482.8,1072.1 484.9,1073.0 486.8,1072.4 488.4,1074.7 490.4,1076.1 492.3,1077.1 493.8,1077.9 495.0,1079.1 496.4,1079.9 498.1,1081.6 499.6,1083.5 502.1,1084.2 504.5,1086.0 506.6,1086.0 508.0,1087.4 510.7,1088.1 512.6,1088.9 515.0,1088.7 517.1,1086.7 519.5,1088.5 521.4,1087.2 523.3,1085.4 525.1,1084.5 526.5,1083.0 528.5,1081.9 529.6,1080.9 531.8,1080.2 532.9,1076.9 534.5,1075.5 537.7,1073.3 538.8,1073.6 541.4,1072.7 543.3,1071.4 545.4,1072.8 547.9,1073.5 549.7,1071.1 552.5,1072.1 554.8,1073.0 557.2,1073.6 559.8,1072.0 561.9,1074.5 563.6,1074.2 565.7,1073.8 568.1,1075.2 569.5,1075.7 571.3,1075.1 574.0,1075.7 575.6,1075.9 578.0,1076.0 580.2,1074.3 581.9,1073.5 584.2,1073.5 586.9,1072.5 588.6,1070.6 590.7,1069.9 592.4,1068.7 594.8,1070.5 596.9,1069.2 599.3,1071.8 602.0,1071.3 603.9,1072.0 605.6,1072.4 607.8,1071.8 609.7,1072.8 611.7,1072.5 614.3,1074.5 616.0,1073.1 618.3,1073.2 619.9,1073.9 621.8,1072.2 623.9,1071.7 626.1,1072.0 628.6,1071.4 630.2,1069.6 632.2,1069.1 634.2,1069.5 636.2,1068.0 637.9,1067.2 640.1,1065.7 641.9,1065.9 643.6,1064.3 645.8,1064.8 648.3,1063.8 650.4,1063.3 652.5,1061.9 654.6,1063.0 656.3,1062.9 659.0,1061.3 660.6,1061.7 662.4,1061.7 664.4,1060.7 666.8,1060.6 668.5,1059.2 670.5,1057.3 672.5,1057.5 674.0,1056.6 675.7,1055.1 678.1,1055.3 680.5,1054.7 682.1,1054.1 685.1,1054.2 686.6,1053.0 688.5,1052.8 690.9,1052.9 693.2,1051.5 694.7,1049.8 696.1,1048.6 698.9,1047.9 700.8,1046.2 703.0,1046.2 704.8,1045.3 706.1,1044.0 708.6,1044.6 710.9,1042.5 713.4,1041.4 715.7,1041.0 717.3,1040.4 719.6,1039.3 721.4,1040.0 723.5,1040.0 725.7,1041.4 727.8,1042.3 729.7,1043.6 731.1,1043.4 732.6,1045.5 734.8,1047.1 736.6,1047.6 738.4,1051.1 739.8,1050.8 741.4,1052.7 743.7,1052.1 746.4,1052.1 748.6,1051.1 750.8,1050.7 753.4,1050.2 755.2,1049.2 757.5,1047.9 759.5,1047.3 761.3,1045.6 762.9,1044.8 765.2,1043.8 767.2,1044.1 770.4,1044.1 771.9,1044.5 774.1,1044.7 776.7,1044.7 778.9,1045.5 780.9,1045.3 783.2,1045.5 785.6,1046.4 787.6,1047.4 789.9,1046.5 791.6,1047.7 793.0,1046.1 796.1,1046.7 798.1,1045.4 800.3,1044.1 802.8,1043.6 804.9,1042.4 807.6,1042.0 810.0,1040.4 812.1,1041.5 813.9,1042.6 815.9,1042.1 817.4,1044.0 819.6,1044.2 821.2,1045.9 823.1,1046.1 824.5,1046.8 826.4,1048.9 828.2,1051.0 829.5,1053.2 831.5,1053.8 833.1,1056.1 835.0,1056.0 837.0,1057.0 838.9,1058.3 841.1,1058.6 842.5,1059.2 844.7,1059.0 847.4,1060.3 849.3,1057.8 852.1,1057.5 854.6,1056.3 855.9,1056.3 858.1,1054.7 859.8,1052.8 861.4,1051.2 864.0,1050.2 865.4,1048.7 867.5,1047.9 869.1,1045.7 871.2,1046.1 873.3,1044.2 874.8,1043.3 876.7,1041.9 878.8,1042.5 881.0,1043.1 883.0,1043.0 885.7,1043.8 887.3,1045.1 889.7,1044.3 891.4,1045.1 893.1,1043.2 895.7,1042.3 897.7,1044.0 900.0,1043.2 902.6,1042.2 904.6,1042.3 906.1,1042.5 908.1,1042.6 910.4,1043.9 913.0,1044.5 914.3,1044.5 915.7,1045.7 917.6,1048.0 919.6,1049.3 920.7,1051.6 922.5,1053.8 924.9,1054.1 926.8,1053.2 927.6,1052.9 929.9,1052.7 932.9,1051.4 934.7,1050.9 936.2,1050.4 938.8,1051.6 939.5,1054.3 941.3,1054.8 943.1,1055.5 945.2,1056.8 947.8,1057.4 949.2,1057.9 951.0,1058.1 953.5,1056.8 955.9,1057.5 957.9,1057.2 960.5,1057.8 962.1,1055.3 965.0,1056.7 966.7,1057.2 969.1,1057.7 971.2,1057.1 973.5,1058.3 976.0,1058.2 978.5,1057.1 979.9,1058.4 982.4,1058.3 984.7,1059.3 986.1,1059.1 988.3,1059.7 990.0,1059.3 992.5,1060.3 994.1,1061.0 996.0,1061.6 997.8,1062.1 1000.4,1062.2 1002.2,1062.2 1004.0,1062.8 1005.8,1061.5 1008.3,1060.9 1009.7,1059.4 1012.5,1058.5 1014.0,1058.2 1016.0,1055.5 1017.4,1055.2 1019.8,1053.8 1022.0,1052.8 1023.6,1050.5 1026.3,1049.8 1027.7,1047.8 1030.2,1047.2 1031.7,1047.5 1034.1,1046.5 1035.6,1043.8 1037.7,1044.9 1039.8,1045.5 1042.1,1044.9 1044.2,1046.4 1045.9,1048.4 1047.5,1049.6 1050.3,1048.8 1051.9,1050.6 1053.6,1051.0 1055.6,1052.0 1057.7,1051.2 1060.4,1053.5 1061.7,1054.0 1064.6,1053.0 1066.0,1054.0 1068.4,1054.5 1069.8,1055.7 1071.9,1055.4 1075.0,1054.4 1076.1,1054.9 1078.1,1054.0 1080.0,1054.7 1082.2,1052.3 1084.0,1051.3 1085.5,1050.0 1088.2,1049.3 1089.9,1050.7 1091.6,1053.7 1093.9,1054.0 1095.8,1055.1 1097.7,1055.5 1099.8,1057.5 1102.2,1057.3 1104.3,1058.3 1105.8,1056.0 1108.1,1057.2 1110.0,1056.7 1112.1,1058.2 1113.8,1057.0 1116.1,1056.9 1117.7,1057.2 1119.3,1058.1 1121.9,1057.3 1124.2,1057.2 1126.0,1058.1 1128.9,1057.2 1131.9,1056.2 1133.3,1056.9 1134.3,1058.2 1136.0,1057.0" fill="none" stroke="#8ebde6" stroke-width="5.6" stroke-linecap="round" stroke-linejoin="round" />
<polyline points="157.7,1061.1 158.3,1061.5 160.0,1060.4 161.5,1060.6 163.4,1060.4 165.9,1060.5 168.1,1060.8 170.7,1058.5 173.8,1060.2 175.1,1060.6 177.4,1060.6 179.3,1060.8 181.4,1061.7 183.8,1060.9 186.5,1061.4 188.7,1061.7 189.9,1061.4 193.0,1061.3 195.5,1060.9 196.8,1060.2 199.5,1060.1 201.2,1061.9 204.0,1059.7 205.7,1058.0 207.2,1058.4 208.5,1057.6 210.3,1056.9 213.2,1057.2 216.2,1055.3 217.4,1054.8 220.2,1054.3 222.7,1055.1 224.9,1053.9 227.6,1053.9 229.9,1054.2 232.0,1055.0 232.9,1056.4 234.9,1057.1 236.9,1059.5 238.3,1060.3 240.7,1061.3 243.0,1061.8 244.9,1063.6 246.8,1064.7 248.7,1065.3 250.9,1067.4 253.4,1066.7 255.5,1065.6 257.8,1066.6 259.6,1065.1 262.8,1064.0 264.6,1064.1 267.0,1063.4 268.9,1062.1 270.7,1061.2 272.6,1060.1 274.8,1060.6 276.5,1059.3 278.8,1058.7 280.9,1058.5 282.4,1057.3 285.0,1058.0 287.1,1057.5 288.8,1056.2 291.0,1056.3 293.4,1055.8 295.2,1056.2 297.6,1055.3 300.3,1056.0 302.4,1055.5 303.9,1055.8 305.9,1056.8 308.1,1057.5 309.5,1058.1 312.2,1059.3 314.1,1059.9 316.0,1059.9 318.1,1060.4 318.8,1059.8 322.6,1059.0 323.9,1060.3 326.0,1060.3 327.9,1058.6 330.4,1058.8 332.3,1059.4 334.9,1059.0 337.0,1059.0 339.5,1058.3 342.0,1058.8 344.2,1058.8 346.0,1058.1 348.1,1058.8 350.2,1059.0 352.9,1056.9 354.0,1056.7 355.8,1055.5 357.2,1055.1 359.5,1054.0 361.4,1052.2 362.8,1051.3 365.5,1049.8 368.1,1048.9 370.4,1048.1 372.1,1047.8 374.2,1047.0 376.3,1048.7 377.5,1050.2 379.6,1051.7 381.5,1051.6 382.7,1051.9 385.5,1050.2 387.0,1049.4 388.7,1048.7 390.7,1048.1 392.6,1049.7 394.9,1051.0 395.9,1050.4 398.2,1052.6 399.7,1052.9 401.9,1054.4 403.4,1057.0 405.5,1057.5 406.9,1059.0 409.9,1059.7 411.7,1059.9 413.1,1060.9 415.1,1060.6 417.1,1060.8 419.9,1059.9 421.7,1059.9 422.8,1061.6 426.2,1060.2 428.4,1059.5 431.2,1057.8 432.7,1058.1 434.8,1058.2 436.6,1056.3 438.6,1056.7 441.5,1056.2 444.2,1055.0 446.1,1055.6 448.0,1054.6 450.7,1054.7 452.8,1054.6 455.8,1055.2 457.3,1055.2 459.3,1055.4 461.6,1054.3 464.5,1055.3 466.1,1054.4 468.6,1053.1 470.7,1054.6 473.3,1056.2 475.2,1056.7 477.5,1057.5 479.8,1060.0 481.5,1059.5 484.6,1058.1 486.7,1057.4 488.4,1055.3 490.3,1055.2 493.8,1056.4 495.4,1055.9 498.3,1056.8 500.4,1059.1 502.0,1059.3 503.8,1060.6 505.9,1064.0 508.1,1064.5 509.6,1064.2 511.6,1063.5 514.3,1064.8 516.4,1062.8 518.2,1062.4 520.5,1061.1 522.3,1061.6 524.7,1061.6 526.8,1060.7 529.5,1060.8 531.5,1060.9 533.3,1059.1 535.2,1058.5 537.8,1059.0 540.0,1059.5 541.7,1058.9 544.2,1058.6 545.6,1058.3 547.7,1057.7 549.4,1058.2 551.9,1059.1 554.0,1059.2 557.0,1060.0 559.5,1060.4 561.3,1060.8 563.7,1062.0 566.3,1062.8 568.6,1062.9 570.1,1062.9 572.8,1062.0 574.7,1062.8 576.8,1061.9 579.0,1062.8 581.7,1061.6 583.1,1061.0 585.1,1060.5 586.9,1060.1 588.9,1060.0 591.8,1058.7 593.3,1059.7 595.8,1059.1 597.7,1059.5 599.8,1060.0 601.6,1059.6 604.1,1058.7 606.4,1058.3 608.0,1059.8 610.2,1060.1 612.8,1058.8 614.6,1057.8 617.2,1058.2 620.0,1058.3 621.7,1057.7 623.8,1060.2 625.8,1058.9 627.9,1059.6 630.6,1059.1 631.8,1059.2 634.9,1060.1 636.7,1058.5 638.5,1058.5 641.1,1057.2 643.0,1056.9 645.1,1057.3 647.7,1056.7 649.5,1057.7 651.8,1056.7 653.9,1055.0 655.7,1053.9 657.4,1052.5 659.4,1050.5 660.9,1049.1 662.1,1046.9 663.5,1046.5 665.6,1044.4 667.3,1042.3 668.8,1041.1 669.9,1040.0 672.0,1039.8 673.9,1037.3 676.3,1036.6 677.4,1035.6 679.5,1035.4 681.2,1032.9 682.4,1032.0 685.6,1031.5 686.6,1030.9 688.6,1029.8 691.4,1030.1 693.1,1029.0 694.4,1025.9 697.0,1026.4 698.9,1025.2 701.2,1024.7 703.1,1023.7 704.8,1022.2 707.1,1021.2 709.1,1020.7 710.3,1019.9 711.9,1018.1 713.9,1017.2 716.2,1017.5 718.3,1014.6 720.1,1013.1 722.7,1013.9 724.7,1012.7 726.8,1012.0 729.1,1011.1 730.8,1011.0 733.6,1008.9 735.3,1008.6 737.7,1008.4 739.8,1008.5 741.0,1006.5 742.8,1006.2 744.6,1005.1 746.2,1004.5 748.5,1002.4 750.1,1002.5 752.2,1000.3 754.0,1002.6 755.8,1000.4 758.5,1000.7 759.9,1000.3 761.4,998.8 763.5,997.8 765.8,997.0 768.5,997.0 770.4,994.8 772.1,994.7 774.0,994.1 775.6,992.2 778.0,993.0 780.1,990.3 781.0,989.5 783.2,989.4 784.6,986.9 786.5,986.2 788.5,985.8 790.8,984.1 792.9,984.1 795.5,983.7 797.5,984.1 799.0,985.3 800.9,985.5 803.4,985.3 805.4,985.0 807.6,985.7 809.4,986.8 811.5,986.9 813.9,987.6 816.1,987.8 818.0,987.1 820.6,988.1 822.6,987.0 824.0,986.5 826.4,986.0 828.0,985.9 829.8,983.7 831.7,982.5 832.5,981.1 833.8,979.2 835.5,976.7 836.7,976.1 838.6,974.5 840.1,973.1 842.1,972.7 843.5,971.0 844.8,969.2 847.0,968.4 849.3,967.1 851.2,968.3 853.7,967.3 855.2,968.3 857.4,966.6 859.1,966.3 861.2,967.0 863.6,966.5 865.5,966.5 867.0,965.9 869.5,965.0 871.0,964.7 873.3,964.3 874.8,962.9 877.7,963.0 878.8,960.9 880.5,959.3 882.2,958.5 883.8,957.2 886.0,955.2 887.5,953.8 889.4,953.8 891.2,952.7 893.6,952.0 895.0,950.3 897.0,948.5 899.7,949.3 901.8,948.7 903.2,948.0 905.3,948.7 906.8,948.4 909.4,949.2 912.0,949.0 914.1,950.6 915.1,951.3 917.1,949.4 919.9,949.3 921.6,949.0 923.2,949.1 925.8,947.0 927.8,945.7 929.3,944.2 930.5,942.9 932.3,941.8 934.3,939.5 936.3,938.4 938.1,936.3 939.1,934.6 941.0,933.7 942.9,933.7 945.2,931.2 947.1,930.6 948.9,929.9 950.9,929.9 952.9,929.1 955.0,929.0 957.4,929.3 959.6,929.9 961.3,930.9 963.9,930.7 965.5,930.5 968.2,930.4 969.7,930.9 971.2,932.3 974.1,931.9 976.2,934.5 978.3,935.3 980.6,935.8 982.4,935.9 984.0,935.5 985.9,934.9 988.0,933.7 990.3,933.5 992.5,931.7 994.0,932.4 995.7,934.7 998.1,934.6 999.6,934.6 1001.8,935.4 1003.5,934.4 1005.6,932.5 1007.8,930.7 1009.5,930.2 1012.0,928.4 1013.6,928.5 1016.2,927.7 1018.2,928.5 1019.7,927.5 1020.8,927.3 1023.3,925.1 1024.1,922.8 1026.0,921.4 1028.1,920.5 1030.1,921.4 1031.6,920.1 1033.0,920.8 1036.1,920.6 1038.4,921.2 1039.6,922.5 1042.2,921.4 1043.8,922.6 1045.9,924.4 1047.8,925.2 1050.3,925.8 1051.5,926.1 1054.1,928.5 1055.8,928.5 1057.7,928.7 1060.3,929.3 1062.0,930.1 1064.3,930.3 1066.0,930.0 1067.8,930.6 1070.6,928.8 1072.3,928.8 1073.8,928.8 1075.9,928.2 1077.9,928.8 1079.7,926.5 1081.9,926.2 1083.7,925.4 1086.0,926.2 1088.3,924.9 1090.1,926.2 1091.9,925.1 1093.7,925.6 1096.3,925.4 1097.7,926.0 1099.6,926.3 1101.8,926.2 1104.1,926.6 1106.5,924.9 1107.6,924.3 1110.1,924.7 1112.0,923.6 1114.5,923.3 1116.1,922.2 1117.5,921.6 1120.6,920.1 1122.0,919.8 1124.3,918.2 1126.9,917.1 1129.1,915.1 1130.0,916.0 1132.0,915.0" fill="none" stroke="#000" stroke-width="5.6" stroke-linecap="round" stroke-linejoin="round" />
<polyline points="156.0,1095.3 162.3,1073.3 167.7,1044.0 171.7,1027.3 177.2,990.7 184.8,943.4 190.2,895.7 196.2,847.9 201.3,800.6 201.9,790.7 204.5,762.7 207.2,742.7 209.9,716.0 212.5,694.7 216.0,668.0 217.9,648.0 221.3,620.0 224.8,600.0 228.0,573.0 230.7,552.0 236.0,526.7 239.7,504.7" fill="none" stroke="#cc4716" stroke-width="5.3" stroke-linecap="round" stroke-linejoin="round" stroke-dasharray="17.4 30.44" stroke-dashoffset="44.42"/>
<polyline points="159.5,1060.0 160.2,1051.4 166.1,1012.3 173.7,964.4 181.2,916.8 188.9,870.3 197.5,823.8 205.2,776.0 208.0,765.3 210.7,738.7 216.0,717.3 220.0,692.0 224.0,670.7 229.3,645.3 234.7,624.0 241.3,597.3 248.0,576.0 254.7,557.3 261.3,536.0 267.5,518.7 277.3,500.5" fill="none" stroke="#99a60f" stroke-width="5.3" stroke-linecap="round" stroke-linejoin="round" stroke-dasharray="17.4 29.95" stroke-dashoffset="5.83"/>
<polyline points="264.6,501.6 274.8,496.5" fill="none" stroke="#cc4716" stroke-width="5.3" stroke-linecap="round" stroke-linejoin="round" />
<polyline points="298.6,491.2 310.2,489.2" fill="none" stroke="#cc4716" stroke-width="5.3" stroke-linecap="round" stroke-linejoin="round" />
<polyline points="338.9,485.8 354.3,485.1" fill="none" stroke="#cc4716" stroke-width="5.3" stroke-linecap="round" stroke-linejoin="round" />
<polyline points="384.9,482.2 402.0,482.2" fill="none" stroke="#cc4716" stroke-width="5.3" stroke-linecap="round" stroke-linejoin="round" />
<polyline points="426.0,481.2 440.6,480.4" fill="none" stroke="#cc4716" stroke-width="5.3" stroke-linecap="round" stroke-linejoin="round" />
<polyline points="469.2,479.8 483.3,479.8" fill="none" stroke="#cc4716" stroke-width="5.3" stroke-linecap="round" stroke-linejoin="round" />
<polyline points="512.8,478.1 546.2,478.1" fill="none" stroke="#cc4716" stroke-width="5.3" stroke-linecap="round" stroke-linejoin="round" />
<polyline points="574.8,477.4 594.0,476.8" fill="none" stroke="#cc4716" stroke-width="5.3" stroke-linecap="round" stroke-linejoin="round" />
<polyline points="616.4,475.4 635.6,474.7" fill="none" stroke="#cc4716" stroke-width="5.3" stroke-linecap="round" stroke-linejoin="round" />
<polyline points="658.1,475.4 676.2,474.7" fill="none" stroke="#cc4716" stroke-width="5.3" stroke-linecap="round" stroke-linejoin="round" />
<polyline points="704.9,474.7 705.0,474.7 724.0,475.3" fill="none" stroke="#cc4716" stroke-width="5.3" stroke-linecap="round" stroke-linejoin="round" />
<polyline points="747.9,475.4 767.1,475.4" fill="none" stroke="#cc4716" stroke-width="5.3" stroke-linecap="round" stroke-linejoin="round" />
<polyline points="794.8,474.7 813.0,474.7" fill="none" stroke="#cc4716" stroke-width="5.3" stroke-linecap="round" stroke-linejoin="round" />
<polyline points="838.9,474.7 839.1,474.7 858.0,475.3" fill="none" stroke="#cc4716" stroke-width="5.3" stroke-linecap="round" stroke-linejoin="round" />
<polyline points="880.1,475.2 900.0,475.0 918.6,475.0" fill="none" stroke="#cc4716" stroke-width="5.3" stroke-linecap="round" stroke-linejoin="round" />
<polyline points="942.5,475.0 958.0,475.0" fill="none" stroke="#cc4716" stroke-width="5.3" stroke-linecap="round" stroke-linejoin="round" />
<polyline points="980.8,475.0 995.1,475.0" fill="none" stroke="#cc4716" stroke-width="5.3" stroke-linecap="round" stroke-linejoin="round" />
<polyline points="1023.4,475.0 1041.2,474.9" fill="none" stroke="#cc4716" stroke-width="5.3" stroke-linecap="round" stroke-linejoin="round" />
<polyline points="1068.2,474.9 1088.2,474.8" fill="none" stroke="#cc4716" stroke-width="5.3" stroke-linecap="round" stroke-linejoin="round" />
<polyline points="1115.3,474.8 1129.9,474.8" fill="none" stroke="#cc4716" stroke-width="5.3" stroke-linecap="round" stroke-linejoin="round" />
<polyline points="304.2,502.8 321.5,502.8" fill="none" stroke="#99a60f" stroke-width="5.3" stroke-linecap="round" stroke-linejoin="round" />
<polyline points="352.0,502.8 370.1,502.8" fill="none" stroke="#99a60f" stroke-width="5.3" stroke-linecap="round" stroke-linejoin="round" />
<polyline points="391.4,496.0 404.0,494.3" fill="none" stroke="#99a60f" stroke-width="5.3" stroke-linecap="round" stroke-linejoin="round" />
<polyline points="427.9,491.3 445.7,489.1" fill="none" stroke="#99a60f" stroke-width="5.3" stroke-linecap="round" stroke-linejoin="round" />
<polyline points="468.1,486.7 482.1,486.7" fill="none" stroke="#99a60f" stroke-width="5.3" stroke-linecap="round" stroke-linejoin="round" />
<polyline points="503.7,484.1 519.4,482.3 547.2,481.0" fill="none" stroke="#99a60f" stroke-width="5.3" stroke-linecap="round" stroke-linejoin="round" />
<polyline points="565.6,479.5 583.4,477.8" fill="none" stroke="#99a60f" stroke-width="5.3" stroke-linecap="round" stroke-linejoin="round" />
<polyline points="610.3,475.3 622.4,474.3" fill="none" stroke="#99a60f" stroke-width="5.3" stroke-linecap="round" stroke-linejoin="round" />
<polyline points="645.9,471.7 664.0,470.8" fill="none" stroke="#99a60f" stroke-width="5.3" stroke-linecap="round" stroke-linejoin="round" />
<polyline points="686.0,468.6 705.2,469.4" fill="none" stroke="#99a60f" stroke-width="5.3" stroke-linecap="round" stroke-linejoin="round" />
<polyline points="728.2,467.0 743.6,466.2" fill="none" stroke="#99a60f" stroke-width="5.3" stroke-linecap="round" stroke-linejoin="round" />
<polyline points="763.9,465.1 779.3,463.8" fill="none" stroke="#99a60f" stroke-width="5.3" stroke-linecap="round" stroke-linejoin="round" />
<polyline points="801.4,462.0 820.5,462.0" fill="none" stroke="#99a60f" stroke-width="5.3" stroke-linecap="round" stroke-linejoin="round" />
<polyline points="841.6,461.6 842.5,461.6 859.4,460.9" fill="none" stroke="#99a60f" stroke-width="5.3" stroke-linecap="round" stroke-linejoin="round" />
<polyline points="881.2,458.5 914.3,454.7" fill="none" stroke="#99a60f" stroke-width="5.3" stroke-linecap="round" stroke-linejoin="round" />
<polyline points="941.4,455.0 955.8,455.0" fill="none" stroke="#99a60f" stroke-width="5.3" stroke-linecap="round" stroke-linejoin="round" />
<polyline points="977.5,455.0 993.0,455.0" fill="none" stroke="#99a60f" stroke-width="5.3" stroke-linecap="round" stroke-linejoin="round" />
<polyline points="1014.6,453.9 1032.4,455.5" fill="none" stroke="#99a60f" stroke-width="5.3" stroke-linecap="round" stroke-linejoin="round" />
<polyline points="1056.2,452.3 1073.8,450.0 1074.0,450.0" fill="none" stroke="#99a60f" stroke-width="5.3" stroke-linecap="round" stroke-linejoin="round" />
<polyline points="1095.6,447.9 1113.6,447.1" fill="none" stroke="#99a60f" stroke-width="5.3" stroke-linecap="round" stroke-linejoin="round" />
<polyline points="162.1,1060.9 168.9,1051.9" fill="none" stroke="#0b66c0" stroke-width="5.4" stroke-linecap="round" stroke-linejoin="round" />
<polyline points="183.9,1031.5 194.3,1014.6" fill="none" stroke="#0b66c0" stroke-width="5.4" stroke-linecap="round" stroke-linejoin="round" />
<polyline points="206.3,989.9 217.6,972.4" fill="none" stroke="#0b66c0" stroke-width="5.4" stroke-linecap="round" stroke-linejoin="round" />
<polyline points="233.0,955.6 246.0,949.1" fill="none" stroke="#0b66c0" stroke-width="5.4" stroke-linecap="round" stroke-linejoin="round" />
<polyline points="266.0,935.5 277.7,928.7" fill="none" stroke="#0b66c0" stroke-width="5.4" stroke-linecap="round" stroke-linejoin="round" />
<polyline points="299.0,919.3 311.5,914.8" fill="none" stroke="#0b66c0" stroke-width="5.4" stroke-linecap="round" stroke-linejoin="round" />
<polyline points="333.2,912.7 341.8,913.2" fill="none" stroke="#0b66c0" stroke-width="5.4" stroke-linecap="round" stroke-linejoin="round" />
<polyline points="364.7,909.2 375.9,905.7" fill="none" stroke="#0b66c0" stroke-width="5.4" stroke-linecap="round" stroke-linejoin="round" />
<polyline points="396.4,902.1 407.5,899.4" fill="none" stroke="#0b66c0" stroke-width="5.4" stroke-linecap="round" stroke-linejoin="round" />
<polyline points="428.6,896.9 442.3,900.8" fill="none" stroke="#0b66c0" stroke-width="5.4" stroke-linecap="round" stroke-linejoin="round" />
<polyline points="461.3,898.0 471.5,895.1" fill="none" stroke="#0b66c0" stroke-width="5.4" stroke-linecap="round" stroke-linejoin="round" />
<polyline points="493.1,897.8 505.1,900.4" fill="none" stroke="#0b66c0" stroke-width="5.4" stroke-linecap="round" stroke-linejoin="round" />
<polyline points="524.9,893.3 538.4,890.0 541.2,889.4" fill="none" stroke="#0b66c0" stroke-width="5.4" stroke-linecap="round" stroke-linejoin="round" />
<polyline points="562.8,886.8 574.7,889.1" fill="none" stroke="#0b66c0" stroke-width="5.4" stroke-linecap="round" stroke-linejoin="round" />
<polyline points="595.3,893.6 606.5,896.7" fill="none" stroke="#0b66c0" stroke-width="5.4" stroke-linecap="round" stroke-linejoin="round" />
<polyline points="632.2,897.8 633.4,896.8 635.7,895.6 638.1,893.5 640.0,892.1 641.5,891.3 643.7,890.5 645.9,890.2 648.0,886.9 649.6,886.3 650.9,886.5 652.5,883.5 655.1,883.6 656.2,882.9 658.3,883.0 660.5,882.6 663.4,881.7 665.1,881.5 668.1,880.8 670.6,879.9 672.2,880.0 674.2,879.1 676.6,879.1 678.5,877.9 680.8,877.5 682.3,877.2 684.1,875.8 686.5,875.0 688.0,874.5 689.9,873.4 692.0,873.8 694.3,873.1 696.7,871.8 698.9,871.6 700.8,870.3 702.9,871.0 705.1,870.5 707.6,869.7 709.8,868.1 711.4,867.0 713.8,867.9 716.2,867.1 717.3,867.4 719.6,865.3 721.8,865.7 723.6,864.9 725.1,865.1 727.5,863.6 729.5,862.9 731.3,861.5 733.1,861.3 735.3,859.9 736.7,859.0 738.5,857.5 739.9,855.5 742.0,854.3 743.3,854.4 745.2,851.4 746.7,848.9 748.6,848.3 750.0,848.1 752.4,847.1 754.3,848.2 756.6,846.8 758.8,848.0 760.7,848.8 762.9,849.9 765.1,848.9 767.5,848.1 769.6,848.0 771.8,847.0 773.7,845.9 775.6,845.9 778.0,846.0 780.5,843.0 781.5,843.3 783.6,840.6 785.3,839.2 786.7,837.6 788.6,837.9 790.5,835.1 792.7,833.4 793.5,832.2 795.1,831.1 797.7,829.5 799.5,828.4 801.0,826.7 803.1,825.3 805.0,826.3 807.0,826.5 808.9,827.3 810.8,827.8 812.9,829.2 815.1,829.7 816.8,829.3 819.3,828.6 820.7,828.6 823.4,827.6 825.3,826.3 828.1,825.2 830.2,825.4 832.2,823.6 835.0,823.6 836.7,822.7 838.7,822.0 841.1,821.0 843.2,821.3 845.1,819.9 847.5,819.3 849.4,817.0 850.4,816.6 852.8,815.1 855.1,814.8 856.5,816.3 858.1,816.4 860.8,817.9 862.6,818.2 864.3,819.1 865.9,819.7 868.3,820.8 869.9,821.9 871.8,821.2 874.0,820.5 875.9,820.6 877.5,819.6 880.4,818.7 881.5,818.5 883.2,821.1 884.7,821.3 887.0,823.1 889.2,822.4 891.0,824.2 893.1,824.2 894.9,824.7 897.0,825.0 898.8,824.0 900.8,823.2 902.3,822.3 904.3,821.4 905.7,821.3 908.3,820.3 909.9,819.2 912.2,818.0 914.9,817.0 916.8,815.7 919.1,815.9 920.8,815.0 922.5,814.0 925.0,812.3 927.3,813.1 928.5,810.4 929.9,809.1 931.6,809.7 933.1,807.7 935.3,805.7 937.0,805.7 939.1,805.4 941.9,804.2 943.1,804.3 945.1,803.3 947.3,804.4 950.1,805.6 951.6,804.1 953.4,805.5 956.1,803.9 959.4,804.3 961.7,803.3 963.1,803.0 965.9,803.6 968.2,804.9 970.8,803.4 972.8,804.8 974.8,806.3 977.2,806.4 978.7,805.6 981.0,806.8 982.5,807.6 984.7,808.5 986.6,809.5 989.3,810.5 990.3,811.8 992.3,810.6 994.1,811.1 996.7,812.4 997.9,813.3 999.9,813.5 1002.0,814.8 1004.3,814.8 1006.2,815.8 1008.1,815.5 1009.7,816.3 1012.4,815.2 1014.3,815.4 1017.5,814.6 1020.0,813.9 1021.8,813.6 1024.3,812.2 1026.5,813.6 1028.3,813.0 1031.3,813.7 1033.7,812.5 1035.9,811.5 1036.9,812.4 1039.3,810.5 1041.4,811.1 1043.5,809.8 1045.0,808.6 1047.5,808.9 1049.7,808.1 1052.4,807.2 1054.2,808.4 1056.5,806.3 1059.2,805.1 1061.6,804.8 1063.2,804.2 1065.4,804.0 1068.1,803.8 1070.4,803.7 1072.2,802.6 1074.8,801.6 1077.4,801.4 1079.7,799.6 1081.7,800.5 1084.1,801.4 1085.2,802.9 1086.9,803.8 1088.2,805.8 1090.0,806.6 1091.6,806.8 1093.2,807.3 1095.4,804.7 1097.5,805.7 1099.9,804.9 1101.1,805.9 1103.7,804.2 1105.6,806.4 1108.0,805.1 1110.0,806.5 1112.9,806.8 1114.8,806.9 1116.7,806.9 1118.5,807.1 1121.1,809.0 1123.6,809.5 1126.3,809.4 1128.2,811.0 1130.6,810.9 1132.7,811.4 1133.3,810.8" fill="none" stroke="#0b66c0" stroke-width="5.5" stroke-linecap="round" stroke-linejoin="round" />
<polyline points="157.1,1063.0 157.7,1063.0 159.5,1061.5 160.0,1059.9 161.7,1058.6 163.5,1057.3 165.0,1054.4 166.4,1053.5 168.6,1053.5 170.6,1051.6 173.5,1050.2 175.2,1050.0 177.3,1050.4 179.1,1048.6 181.3,1048.7 183.3,1047.5 186.1,1046.9 188.1,1047.2 189.8,1046.7 192.5,1044.7 194.1,1043.7 196.7,1042.2 198.7,1042.9 200.2,1041.7 202.3,1041.1 204.6,1040.1 206.8,1040.4 208.5,1039.6 210.4,1038.9 212.7,1039.5 214.6,1038.0 216.6,1037.6 218.4,1038.4 220.6,1036.8 222.7,1037.2 225.9,1038.2 227.6,1036.4 229.3,1035.4 231.7,1035.6 234.2,1035.2 235.6,1034.1 237.6,1035.2 240.4,1034.0 242.1,1034.5 244.5,1034.2 246.6,1033.3 247.9,1033.5 250.8,1033.0 253.1,1032.8 254.6,1032.0 255.9,1031.4 258.3,1030.8 260.6,1029.0 262.5,1029.3 264.2,1028.1 266.1,1027.6 268.4,1026.1 270.0,1024.5 272.7,1024.7 274.4,1023.8 276.5,1023.7 279.2,1021.2 281.2,1021.8 282.9,1021.1 285.4,1020.6 287.1,1020.4 288.3,1020.1 290.7,1018.4 292.8,1019.1 294.3,1016.9 296.6,1015.6 298.1,1016.0 300.6,1015.6 302.5,1015.3 304.1,1013.9 306.1,1013.2 308.4,1013.3 309.5,1012.4 311.7,1010.9 314.3,1011.6 316.2,1010.6 318.3,1008.9 319.9,1008.5 321.4,1007.3 323.8,1008.6 325.6,1006.6 327.4,1005.6 329.3,1006.3 331.8,1005.1 333.5,1003.9 335.2,1003.1 337.1,1002.2 339.1,1001.7 340.6,1001.1 342.6,1001.1 344.2,999.3 346.7,999.3 348.5,998.7 350.9,998.0 352.7,997.2 354.2,996.9 356.2,995.6 357.7,994.8 359.7,994.0 362.0,993.1 363.8,991.8 365.5,990.9 367.3,990.0 368.6,988.7 370.4,988.4 372.8,986.5 374.8,986.6 376.6,986.5 378.4,984.7 380.1,985.5 382.0,984.5 383.3,984.4 385.9,982.2 388.1,981.4 390.5,981.4 392.3,980.4 395.2,981.9 396.8,980.9 399.4,980.4 401.3,980.1 403.2,979.1 405.3,978.2 407.0,977.0 408.4,976.1 410.9,976.4 412.9,974.0 415.2,975.1 417.2,974.0 419.3,973.3 421.8,972.4 423.1,971.5 424.9,971.5 427.7,970.7 430.3,969.3 431.7,971.2 433.6,972.9 435.7,972.1 438.2,972.5 439.9,971.0 442.8,971.7 444.7,971.0 447.0,971.5 449.2,970.5 450.9,969.7 452.5,969.2 454.5,968.6 456.3,967.6 458.1,966.3 459.8,965.4 462.0,965.3 464.1,965.6 465.6,964.1 467.6,962.7 469.8,962.6 472.4,962.9 474.3,962.2 476.4,960.6 478.7,960.6 479.9,960.6 482.0,959.7 484.3,959.1 486.1,958.8 487.8,960.8 490.7,961.7 493.3,962.6 495.2,963.4 497.5,963.7 499.5,963.2 502.5,961.3 504.3,960.9 505.9,959.5 508.3,959.4 510.2,959.1 512.9,957.5 513.7,957.2 515.9,956.5 518.2,955.9 521.1,954.9 522.3,953.5 524.7,952.3 526.9,952.4 528.8,952.0 530.3,950.3 532.1,949.7 533.9,947.9 536.7,948.7 537.9,946.8 539.9,946.5 541.7,944.4 543.7,945.3 545.1,943.5 547.4,943.1 549.6,943.6 550.8,942.9 552.8,941.6 555.6,941.3 557.4,940.7 559.8,940.3 562.2,940.1 563.3,939.3 565.5,939.5 567.4,938.6 570.2,938.2 571.5,937.8 574.2,937.3 575.6,936.3 578.4,935.9 580.2,935.3 582.2,935.3 585.0,934.9 586.1,934.2 588.4,934.6 590.1,933.3 592.8,933.7 594.2,933.5 596.2,932.8 598.0,932.2 599.9,932.5 602.7,931.3 604.8,930.0 606.7,930.0 608.9,928.7 610.2,928.0 612.0,927.0 613.6,926.2 615.2,924.6 616.6,922.2 618.3,921.4 619.7,919.5 621.7,919.4 622.7,917.7 624.6,917.2 626.0,915.2 627.3,913.1 629.0,911.6 630.3,910.7 631.9,908.4 633.7,908.2 635.6,905.9 636.6,903.7 638.5,903.4 640.4,901.2 641.7,899.9 644.0,897.9 645.5,896.1 646.9,895.5 648.3,893.9 649.7,891.7 651.1,890.9 652.6,887.7 653.6,885.8 655.0,884.2 656.1,883.0 658.3,880.7 659.8,879.7 661.2,878.9 663.6,877.4 665.1,876.4 665.9,875.0 668.0,874.7 668.6,871.9 670.5,870.9 672.5,868.5 673.7,868.0 674.6,866.3 675.9,865.2 677.3,863.5 678.8,861.8 679.9,860.6 681.4,857.6 682.8,856.7 684.3,854.7 686.0,853.5 687.3,851.4 688.8,850.7 689.6,848.4 691.3,846.6 693.4,846.5 694.7,843.2 695.9,842.7 697.9,841.3 699.3,839.0 700.4,837.9 702.3,836.2 703.2,835.8 704.6,834.6 706.4,832.6 708.2,831.4 709.9,829.3 711.8,827.6 713.0,826.0 714.8,825.1 715.6,824.3 718.9,822.5 719.8,820.9 721.6,819.4 724.1,817.5 725.4,817.7 727.1,817.6 729.3,815.7 731.1,814.5 732.9,814.3 734.7,812.1 736.8,810.8 738.8,810.2 740.0,810.4 741.2,809.4 743.1,806.9 745.2,807.1 746.6,805.1 748.3,803.7 750.1,802.5 751.3,800.7 752.4,800.1 754.3,798.7 756.1,797.2 757.7,795.9 759.3,794.3 760.3,793.3 761.7,792.2 763.4,789.8 765.2,789.7 766.4,787.1 768.6,787.3 769.4,784.3 771.5,782.5 773.9,782.0 775.1,780.3 777.0,779.5 778.2,777.4 780.1,776.2 781.2,774.6 782.8,774.2 784.1,772.4 786.0,770.5 787.3,769.8 788.9,768.4 790.6,766.3 791.8,764.9 793.6,764.2 794.7,762.1 796.6,760.8 798.2,760.4 801.0,757.9 802.9,757.4 804.5,757.5 806.2,756.2 808.1,754.8 809.8,753.9 811.9,753.4 813.8,751.0 815.5,751.8 817.3,750.4 819.2,749.4 821.7,749.5 822.8,746.8 824.7,745.8 826.6,745.2 828.6,744.5 829.9,743.2 831.6,742.5 833.7,740.7 835.1,739.9 836.4,738.8 838.0,739.0 840.2,736.0 841.7,734.9 843.3,733.8 844.9,732.2 847.3,731.5 848.9,730.0 850.4,728.8 853.1,728.5 854.4,726.9 855.8,726.2 857.8,724.3 859.5,724.6 861.9,723.3 863.7,722.1 865.8,722.2 868.1,722.6 870.4,722.3 872.4,722.2 874.4,720.9 876.4,719.4 878.7,719.9 880.6,718.6 882.2,718.1 884.5,718.2 886.2,716.0 888.1,715.2 889.7,714.7 892.4,715.4 895.1,714.4 896.3,713.4 898.8,713.0 900.3,712.6 902.5,711.0 905.1,710.8 906.7,710.1 908.5,707.2 911.0,707.0 912.8,705.8 915.6,705.1 916.9,703.5 919.1,702.9 921.3,703.4 923.8,702.6 925.2,700.6 927.8,701.9 929.5,702.2 932.3,702.1 934.3,700.0 937.3,701.2 938.9,700.9 941.7,700.4 943.2,700.0 944.9,699.9 947.5,700.1 949.6,700.5 951.5,699.8 953.4,700.3 955.7,701.8 958.5,701.7 960.9,701.1 963.1,702.4 965.3,700.8 967.5,700.5 969.7,700.8 971.0,699.1 972.8,697.8 975.2,696.8 976.9,695.9 978.9,694.2 980.4,694.8 982.4,694.6 984.2,692.7 986.3,692.2 988.6,691.8 990.1,690.0 993.1,689.7 995.1,689.1 996.8,688.5 998.5,687.1 1001.3,686.5 1003.0,686.0 1006.1,686.5 1007.6,685.9 1010.5,687.0 1013.0,687.3 1015.1,687.9 1016.7,688.3 1019.5,689.0 1021.7,691.5 1023.4,692.2 1025.2,691.6 1027.5,690.1 1030.1,689.4 1031.5,690.5 1033.8,690.8 1035.4,692.0 1037.8,692.4 1039.8,691.6 1041.9,692.7 1044.2,691.5 1046.4,691.8 1048.7,690.5 1050.8,689.1 1053.3,688.5 1055.7,687.4 1057.2,686.9 1058.9,685.6 1061.4,684.6 1063.5,684.7 1065.1,683.5 1066.8,683.6 1069.2,681.7 1070.7,680.8 1072.4,681.4 1074.6,681.7 1076.8,681.1 1078.8,681.1 1081.0,681.0 1082.8,681.3 1085.1,680.9 1086.3,680.3 1089.4,681.7 1091.4,682.1 1093.2,680.9 1094.7,680.6 1097.0,681.1 1098.9,682.1 1101.3,682.7 1103.4,683.3 1105.4,683.4 1107.6,683.3 1109.6,682.4 1112.3,683.6 1114.3,681.1 1116.9,680.1 1119.3,679.2 1120.8,679.8 1123.1,677.8 1124.8,677.5 1126.6,675.0 1129.5,673.3 1131.9,672.5 1133.3,671.7" fill="none" stroke="#08294f" stroke-width="5.5" stroke-linecap="round" stroke-linejoin="round" />
<path d="M143.0,360.0 L143.0,5.5 L1152.4,5.5 L1152.4,360.0" fill="none" stroke="#000" stroke-width="3.6" stroke-linejoin="miter" stroke-linecap="square"/>
<line x1="141.20" y1="360.00" x2="1154.20" y2="360.00" stroke="#000" stroke-width="3.6" stroke-linecap="butt" />
<line x1="143.00" y1="360.00" x2="143.00" y2="495.50" stroke="#000" stroke-width="3.6" stroke-linecap="butt" />
<line x1="143.00" y1="508.50" x2="143.00" y2="1069.50" stroke="#000" stroke-width="3.6" stroke-linecap="butt" />
<line x1="1152.40" y1="360.00" x2="1152.40" y2="495.50" stroke="#000" stroke-width="3.6" stroke-linecap="butt" />
<line x1="1152.40" y1="508.50" x2="1152.40" y2="1069.50" stroke="#000" stroke-width="3.6" stroke-linecap="butt" />
<line x1="141.20" y1="1069.50" x2="1154.20" y2="1069.50" stroke="#000" stroke-width="3.6" stroke-linecap="butt" />
<line x1="127.50" y1="502.50" x2="158.00" y2="490.00" stroke="#000" stroke-width="3.4" stroke-linecap="round" />
<line x1="127.50" y1="514.75" x2="158.00" y2="502.75" stroke="#000" stroke-width="3.4" stroke-linecap="round" />
<line x1="1136.75" y1="502.50" x2="1167.50" y2="490.25" stroke="#000" stroke-width="3.4" stroke-linecap="round" />
<line x1="1136.75" y1="514.75" x2="1167.50" y2="502.75" stroke="#000" stroke-width="3.4" stroke-linecap="round" />
<line x1="156.50" y1="5.50" x2="156.50" y2="21.50" stroke="#000" stroke-width="3.4" stroke-linecap="butt" />
<line x1="156.50" y1="360.00" x2="156.50" y2="344.00" stroke="#000" stroke-width="3.4" stroke-linecap="butt" />
<line x1="156.50" y1="360.00" x2="156.50" y2="376.00" stroke="#000" stroke-width="3.4" stroke-linecap="butt" />
<line x1="156.50" y1="1069.50" x2="156.50" y2="1053.50" stroke="#000" stroke-width="3.4" stroke-linecap="butt" />
<line x1="226.60" y1="5.50" x2="226.60" y2="14.50" stroke="#000" stroke-width="3.4" stroke-linecap="butt" />
<line x1="226.60" y1="360.00" x2="226.60" y2="351.00" stroke="#000" stroke-width="3.4" stroke-linecap="butt" />
<line x1="226.60" y1="360.00" x2="226.60" y2="369.00" stroke="#000" stroke-width="3.4" stroke-linecap="butt" />
<line x1="226.60" y1="1069.50" x2="226.60" y2="1060.50" stroke="#000" stroke-width="3.4" stroke-linecap="butt" />
<line x1="296.70" y1="5.50" x2="296.70" y2="21.50" stroke="#000" stroke-width="3.4" stroke-linecap="butt" />
<line x1="296.70" y1="360.00" x2="296.70" y2="344.00" stroke="#000" stroke-width="3.4" stroke-linecap="butt" />
<line x1="296.70" y1="360.00" x2="296.70" y2="376.00" stroke="#000" stroke-width="3.4" stroke-linecap="butt" />
<line x1="296.70" y1="1069.50" x2="296.70" y2="1053.50" stroke="#000" stroke-width="3.4" stroke-linecap="butt" />
<line x1="366.80" y1="5.50" x2="366.80" y2="14.50" stroke="#000" stroke-width="3.4" stroke-linecap="butt" />
<line x1="366.80" y1="360.00" x2="366.80" y2="351.00" stroke="#000" stroke-width="3.4" stroke-linecap="butt" />
<line x1="366.80" y1="360.00" x2="366.80" y2="369.00" stroke="#000" stroke-width="3.4" stroke-linecap="butt" />
<line x1="366.80" y1="1069.50" x2="366.80" y2="1060.50" stroke="#000" stroke-width="3.4" stroke-linecap="butt" />
<line x1="436.90" y1="5.50" x2="436.90" y2="21.50" stroke="#000" stroke-width="3.4" stroke-linecap="butt" />
<line x1="436.90" y1="360.00" x2="436.90" y2="344.00" stroke="#000" stroke-width="3.4" stroke-linecap="butt" />
<line x1="436.90" y1="360.00" x2="436.90" y2="376.00" stroke="#000" stroke-width="3.4" stroke-linecap="butt" />
<line x1="436.90" y1="1069.50" x2="436.90" y2="1053.50" stroke="#000" stroke-width="3.4" stroke-linecap="butt" />
<line x1="507.00" y1="5.50" x2="507.00" y2="14.50" stroke="#000" stroke-width="3.4" stroke-linecap="butt" />
<line x1="507.00" y1="360.00" x2="507.00" y2="351.00" stroke="#000" stroke-width="3.4" stroke-linecap="butt" />
<line x1="507.00" y1="360.00" x2="507.00" y2="369.00" stroke="#000" stroke-width="3.4" stroke-linecap="butt" />
<line x1="507.00" y1="1069.50" x2="507.00" y2="1060.50" stroke="#000" stroke-width="3.4" stroke-linecap="butt" />
<line x1="577.10" y1="5.50" x2="577.10" y2="21.50" stroke="#000" stroke-width="3.4" stroke-linecap="butt" />
<line x1="577.10" y1="360.00" x2="577.10" y2="344.00" stroke="#000" stroke-width="3.4" stroke-linecap="butt" />
<line x1="577.10" y1="360.00" x2="577.10" y2="376.00" stroke="#000" stroke-width="3.4" stroke-linecap="butt" />
<line x1="577.10" y1="1069.50" x2="577.10" y2="1053.50" stroke="#000" stroke-width="3.4" stroke-linecap="butt" />
<line x1="647.20" y1="5.50" x2="647.20" y2="14.50" stroke="#000" stroke-width="3.4" stroke-linecap="butt" />
<line x1="647.20" y1="360.00" x2="647.20" y2="351.00" stroke="#000" stroke-width="3.4" stroke-linecap="butt" />
<line x1="647.20" y1="360.00" x2="647.20" y2="369.00" stroke="#000" stroke-width="3.4" stroke-linecap="butt" />
<line x1="647.20" y1="1069.50" x2="647.20" y2="1060.50" stroke="#000" stroke-width="3.4" stroke-linecap="butt" />
<line x1="717.30" y1="5.50" x2="717.30" y2="21.50" stroke="#000" stroke-width="3.4" stroke-linecap="butt" />
<line x1="717.30" y1="360.00" x2="717.30" y2="344.00" stroke="#000" stroke-width="3.4" stroke-linecap="butt" />
<line x1="717.30" y1="360.00" x2="717.30" y2="376.00" stroke="#000" stroke-width="3.4" stroke-linecap="butt" />
<line x1="717.30" y1="1069.50" x2="717.30" y2="1053.50" stroke="#000" stroke-width="3.4" stroke-linecap="butt" />
<line x1="787.40" y1="5.50" x2="787.40" y2="14.50" stroke="#000" stroke-width="3.4" stroke-linecap="butt" />
<line x1="787.40" y1="360.00" x2="787.40" y2="351.00" stroke="#000" stroke-width="3.4" stroke-linecap="butt" />
<line x1="787.40" y1="360.00" x2="787.40" y2="369.00" stroke="#000" stroke-width="3.4" stroke-linecap="butt" />
<line x1="787.40" y1="1069.50" x2="787.40" y2="1060.50" stroke="#000" stroke-width="3.4" stroke-linecap="butt" />
<line x1="857.50" y1="5.50" x2="857.50" y2="21.50" stroke="#000" stroke-width="3.4" stroke-linecap="butt" />
<line x1="857.50" y1="360.00" x2="857.50" y2="344.00" stroke="#000" stroke-width="3.4" stroke-linecap="butt" />
<line x1="857.50" y1="360.00" x2="857.50" y2="376.00" stroke="#000" stroke-width="3.4" stroke-linecap="butt" />
<line x1="857.50" y1="1069.50" x2="857.50" y2="1053.50" stroke="#000" stroke-width="3.4" stroke-linecap="butt" />
<line x1="927.60" y1="5.50" x2="927.60" y2="14.50" stroke="#000" stroke-width="3.4" stroke-linecap="butt" />
<line x1="927.60" y1="360.00" x2="927.60" y2="351.00" stroke="#000" stroke-width="3.4" stroke-linecap="butt" />
<line x1="927.60" y1="360.00" x2="927.60" y2="369.00" stroke="#000" stroke-width="3.4" stroke-linecap="butt" />
<line x1="927.60" y1="1069.50" x2="927.60" y2="1060.50" stroke="#000" stroke-width="3.4" stroke-linecap="butt" />
<line x1="997.70" y1="5.50" x2="997.70" y2="21.50" stroke="#000" stroke-width="3.4" stroke-linecap="butt" />
<line x1="997.70" y1="360.00" x2="997.70" y2="344.00" stroke="#000" stroke-width="3.4" stroke-linecap="butt" />
<line x1="997.70" y1="360.00" x2="997.70" y2="376.00" stroke="#000" stroke-width="3.4" stroke-linecap="butt" />
<line x1="997.70" y1="1069.50" x2="997.70" y2="1053.50" stroke="#000" stroke-width="3.4" stroke-linecap="butt" />
<line x1="1067.80" y1="5.50" x2="1067.80" y2="14.50" stroke="#000" stroke-width="3.4" stroke-linecap="butt" />
<line x1="1067.80" y1="360.00" x2="1067.80" y2="351.00" stroke="#000" stroke-width="3.4" stroke-linecap="butt" />
<line x1="1067.80" y1="360.00" x2="1067.80" y2="369.00" stroke="#000" stroke-width="3.4" stroke-linecap="butt" />
<line x1="1067.80" y1="1069.50" x2="1067.80" y2="1060.50" stroke="#000" stroke-width="3.4" stroke-linecap="butt" />
<line x1="1137.90" y1="5.50" x2="1137.90" y2="21.50" stroke="#000" stroke-width="3.4" stroke-linecap="butt" />
<line x1="1137.90" y1="360.00" x2="1137.90" y2="344.00" stroke="#000" stroke-width="3.4" stroke-linecap="butt" />
<line x1="1137.90" y1="360.00" x2="1137.90" y2="376.00" stroke="#000" stroke-width="3.4" stroke-linecap="butt" />
<line x1="1137.90" y1="1069.50" x2="1137.90" y2="1053.50" stroke="#000" stroke-width="3.4" stroke-linecap="butt" />
<line x1="143.00" y1="31.25" x2="159.00" y2="31.25" stroke="#000" stroke-width="3.4" stroke-linecap="butt" />
<line x1="1152.40" y1="31.25" x2="1136.40" y2="31.25" stroke="#000" stroke-width="3.4" stroke-linecap="butt" />
<line x1="143.00" y1="62.88" x2="152.00" y2="62.88" stroke="#000" stroke-width="3.4" stroke-linecap="butt" />
<line x1="1152.40" y1="62.88" x2="1143.40" y2="62.88" stroke="#000" stroke-width="3.4" stroke-linecap="butt" />
<line x1="143.00" y1="94.50" x2="159.00" y2="94.50" stroke="#000" stroke-width="3.4" stroke-linecap="butt" />
<line x1="1152.40" y1="94.50" x2="1136.40" y2="94.50" stroke="#000" stroke-width="3.4" stroke-linecap="butt" />
<line x1="143.00" y1="126.12" x2="152.00" y2="126.12" stroke="#000" stroke-width="3.4" stroke-linecap="butt" />
<line x1="1152.40" y1="126.12" x2="1143.40" y2="126.12" stroke="#000" stroke-width="3.4" stroke-linecap="butt" />
<line x1="143.00" y1="157.75" x2="159.00" y2="157.75" stroke="#000" stroke-width="3.4" stroke-linecap="butt" />
<line x1="1152.40" y1="157.75" x2="1136.40" y2="157.75" stroke="#000" stroke-width="3.4" stroke-linecap="butt" />
<line x1="143.00" y1="189.38" x2="152.00" y2="189.38" stroke="#000" stroke-width="3.4" stroke-linecap="butt" />
<line x1="1152.40" y1="189.38" x2="1143.40" y2="189.38" stroke="#000" stroke-width="3.4" stroke-linecap="butt" />
<line x1="143.00" y1="221.00" x2="159.00" y2="221.00" stroke="#000" stroke-width="3.4" stroke-linecap="butt" />
<line x1="1152.40" y1="221.00" x2="1136.40" y2="221.00" stroke="#000" stroke-width="3.4" stroke-linecap="butt" />
<line x1="143.00" y1="252.62" x2="152.00" y2="252.62" stroke="#000" stroke-width="3.4" stroke-linecap="butt" />
<line x1="1152.40" y1="252.62" x2="1143.40" y2="252.62" stroke="#000" stroke-width="3.4" stroke-linecap="butt" />
<line x1="143.00" y1="284.25" x2="159.00" y2="284.25" stroke="#000" stroke-width="3.4" stroke-linecap="butt" />
<line x1="1152.40" y1="284.25" x2="1136.40" y2="284.25" stroke="#000" stroke-width="3.4" stroke-linecap="butt" />
<line x1="143.00" y1="315.88" x2="152.00" y2="315.88" stroke="#000" stroke-width="3.4" stroke-linecap="butt" />
<line x1="1152.40" y1="315.88" x2="1143.40" y2="315.88" stroke="#000" stroke-width="3.4" stroke-linecap="butt" />
<line x1="143.00" y1="347.50" x2="159.00" y2="347.50" stroke="#000" stroke-width="3.4" stroke-linecap="butt" />
<line x1="1152.40" y1="347.50" x2="1136.40" y2="347.50" stroke="#000" stroke-width="3.4" stroke-linecap="butt" />
<line x1="143.00" y1="366.65" x2="152.00" y2="366.65" stroke="#000" stroke-width="3.4" stroke-linecap="butt" />
<line x1="143.00" y1="397.50" x2="159.00" y2="397.50" stroke="#000" stroke-width="3.4" stroke-linecap="butt" />
<line x1="143.00" y1="428.35" x2="152.00" y2="428.35" stroke="#000" stroke-width="3.4" stroke-linecap="butt" />
<line x1="143.00" y1="459.20" x2="159.00" y2="459.20" stroke="#000" stroke-width="3.4" stroke-linecap="butt" />
<line x1="143.00" y1="490.05" x2="152.00" y2="490.05" stroke="#000" stroke-width="3.4" stroke-linecap="butt" />
<line x1="143.00" y1="1060.50" x2="159.00" y2="1060.50" stroke="#000" stroke-width="3.4" stroke-linecap="butt" />
<line x1="143.00" y1="1010.35" x2="152.00" y2="1010.35" stroke="#000" stroke-width="3.4" stroke-linecap="butt" />
<line x1="143.00" y1="960.20" x2="159.00" y2="960.20" stroke="#000" stroke-width="3.4" stroke-linecap="butt" />
<line x1="143.00" y1="910.05" x2="152.00" y2="910.05" stroke="#000" stroke-width="3.4" stroke-linecap="butt" />
<line x1="143.00" y1="859.90" x2="159.00" y2="859.90" stroke="#000" stroke-width="3.4" stroke-linecap="butt" />
<line x1="143.00" y1="809.75" x2="152.00" y2="809.75" stroke="#000" stroke-width="3.4" stroke-linecap="butt" />
<line x1="143.00" y1="759.60" x2="159.00" y2="759.60" stroke="#000" stroke-width="3.4" stroke-linecap="butt" />
<line x1="143.00" y1="709.45" x2="152.00" y2="709.45" stroke="#000" stroke-width="3.4" stroke-linecap="butt" />
<line x1="143.00" y1="659.30" x2="159.00" y2="659.30" stroke="#000" stroke-width="3.4" stroke-linecap="butt" />
<line x1="143.00" y1="609.15" x2="152.00" y2="609.15" stroke="#000" stroke-width="3.4" stroke-linecap="butt" />
<line x1="143.00" y1="559.00" x2="159.00" y2="559.00" stroke="#000" stroke-width="3.4" stroke-linecap="butt" />
<line x1="1152.40" y1="480.80" x2="1143.40" y2="480.80" stroke="#000" stroke-width="3.4" stroke-linecap="butt" />
<line x1="1152.40" y1="460.80" x2="1136.40" y2="460.80" stroke="#000" stroke-width="3.4" stroke-linecap="butt" />
<line x1="1152.40" y1="440.80" x2="1143.40" y2="440.80" stroke="#000" stroke-width="3.4" stroke-linecap="butt" />
<line x1="1152.40" y1="420.80" x2="1136.40" y2="420.80" stroke="#000" stroke-width="3.4" stroke-linecap="butt" />
<line x1="1152.40" y1="400.80" x2="1143.40" y2="400.80" stroke="#000" stroke-width="3.4" stroke-linecap="butt" />
<line x1="1152.40" y1="380.80" x2="1136.40" y2="380.80" stroke="#000" stroke-width="3.4" stroke-linecap="butt" />
<line x1="1152.40" y1="1058.50" x2="1136.40" y2="1058.50" stroke="#000" stroke-width="3.4" stroke-linecap="butt" />
<line x1="1152.40" y1="958.50" x2="1143.40" y2="958.50" stroke="#000" stroke-width="3.4" stroke-linecap="butt" />
<line x1="1152.40" y1="858.50" x2="1136.40" y2="858.50" stroke="#000" stroke-width="3.4" stroke-linecap="butt" />
<line x1="1152.40" y1="758.50" x2="1143.40" y2="758.50" stroke="#000" stroke-width="3.4" stroke-linecap="butt" />
<line x1="1152.40" y1="658.50" x2="1136.40" y2="658.50" stroke="#000" stroke-width="3.4" stroke-linecap="butt" />
<line x1="1152.40" y1="558.50" x2="1143.40" y2="558.50" stroke="#000" stroke-width="3.4" stroke-linecap="butt" />
<rect x="282.7" y="511.2" width="591.2" height="182.3" fill="#fff" stroke="#222" stroke-width="2"/>
<polyline points="321.0,548.0 392.1,548.0" fill="none" stroke="#08294f" stroke-width="5.2" stroke-linecap="round" stroke-linejoin="round" />
<polyline points="479.6,548.0 551.0,548.0" fill="none" stroke="#0b66c0" stroke-width="5.2" stroke-linecap="round" stroke-linejoin="round" />
<polyline points="628.3,548.0 698.2,548.0" fill="none" stroke="#000" stroke-width="5.2" stroke-linecap="round" stroke-linejoin="round" />
<polyline points="321.0,601.8 392.1,601.8" fill="none" stroke="#737373" stroke-width="5.2" stroke-linecap="round" stroke-linejoin="round" />
<polyline points="628.3,601.8 698.2,601.8" fill="none" stroke="#8ebde6" stroke-width="5.2" stroke-linecap="round" stroke-linejoin="round" />
<polyline points="321.0,651.0 392.1,651.0" fill="none" stroke="#99a60f" stroke-width="5.2" stroke-linecap="round" stroke-linejoin="round" stroke-dasharray="19.3 24.4" />
<polyline points="482.1,651.0 549.4,651.0" fill="none" stroke="#cc4716" stroke-width="5.2" stroke-linecap="round" stroke-linejoin="round" stroke-dasharray="19.3 24.4" />
<text stroke="#000" stroke-width="0.35" transform="matrix(1,0,0,1.04,0,-22.352)" x="401.0" y="558.8" font-size="31.5">CO<tspan font-size="20" dy="11.8">2</tspan></text>
<text stroke="#000" stroke-width="0.35" transform="matrix(1,0,0,1.04,0,-22.352)" x="559.9" y="558.8" font-size="31.5">CO</text>
<text stroke="#000" stroke-width="0.35" transform="matrix(1,0,0,1.04,0,-22.352)" x="707.6" y="558.8" font-size="31.5">O<tspan font-size="20" dy="11.8">2</tspan><tspan dy="-11.8"> x 0</tspan></text>
<text stroke="#000" stroke-width="0.35" transform="matrix(1,0,0,1.04,0,-24.540)" x="401.5" y="613.5" font-size="31.5"><tspan font-size="19" dy="-16.5"> 3</tspan><tspan dy="16.5">CO</tspan><tspan font-size="20" dy="11.8">2</tspan><tspan dy="-11.8"> x 0</tspan></text>
<text stroke="#000" stroke-width="0.35" transform="matrix(1,0,0,1.04,0,-24.540)" x="708.3" y="613.5" font-size="31.5"><tspan font-size="19" dy="-16.5"> 3</tspan><tspan dy="16.5">CO x 0</tspan></text>
<text stroke="#000" stroke-width="0.35" transform="matrix(1,0,0,1.04,0,-26.464)" x="401.2" y="661.6" font-size="31.5">H<tspan font-size="20" dy="11.8">2</tspan></text>
<text stroke="#000" stroke-width="0.35" transform="matrix(1,0,0,1.04,0,-26.464)" x="561.6" y="661.6" font-size="31.5">C<tspan font-size="20" dy="11.8">2</tspan><tspan dy="-11.8">H</tspan><tspan font-size="20" dy="11.8">4</tspan></text>
<text stroke="#99a60f" stroke-width="0.35" transform="matrix(1,0,0,1.04,0,-16.900)" x="873.37" y="422.50" font-size="43" font-weight="bold" fill="#99a60f">H</text>
<text stroke="#99a60f" stroke-width="0.35" transform="matrix(1,0,0,1.04,0,-17.550)" x="902.83" y="438.75" font-size="26.5" font-weight="bold" fill="#99a60f">2</text>
<text stroke="#cc4716" stroke-width="0.35" transform="matrix(1,0,0,1.04,0,-20.816)" x="920.44" y="520.40" font-size="43" font-weight="bold" fill="#cc4716">C</text>
<text stroke="#cc4716" stroke-width="0.35" transform="matrix(1,0,0,1.04,0,-21.412)" x="951.68" y="535.30" font-size="26.5" font-weight="bold" fill="#cc4716">2</text>
<text stroke="#cc4716" stroke-width="0.35" transform="matrix(1,0,0,1.04,0,-20.792)" x="966.62" y="519.80" font-size="43" font-weight="bold" fill="#cc4716">H</text>
<text stroke="#cc4716" stroke-width="0.35" transform="matrix(1,0,0,1.04,0,-21.412)" x="997.70" y="535.30" font-size="26.5" font-weight="bold" fill="#cc4716">4</text>
<text stroke="#08294f" stroke-width="0.35" transform="matrix(1,0,0,1.04,0,-26.608)" x="976.84" y="665.20" font-size="43" font-weight="bold" fill="#08294f">CO</text>
<text stroke="#08294f" stroke-width="0.35" transform="matrix(1,0,0,1.04,0,-27.220)" x="1041.38" y="680.50" font-size="26.5" font-weight="bold" fill="#08294f">2</text>
<text stroke="#0b66c0" stroke-width="0.35" transform="matrix(1,0,0,1.04,0,-31.752)" x="976.54" y="793.80" font-size="43" font-weight="bold" fill="#0b66c0">CO</text>
<text stroke="#000" stroke-width="0.35" transform="matrix(1,0,0,1.04,0,-38.260)" x="716.99" y="956.50" font-size="43" font-weight="bold" fill="#000">O</text>
<text stroke="#000" stroke-width="0.35" transform="matrix(1,0,0,1.04,0,-38.876)" x="750.98" y="971.90" font-size="26.5" font-weight="bold" fill="#000">2</text>
<text stroke="#000" stroke-width="0.35" transform="matrix(1,0,0,1.04,0,-38.876)" x="777.92" y="971.90" font-size="26.5" font-weight="bold" fill="#000">x 0</text>
<text stroke="#8ebde6" stroke-width="0.35" transform="matrix(1,0,0,1.04,0,-40.076)" x="840.93" y="1001.90" font-size="25" font-weight="bold" fill="#8ebde6"> 3</text>
<text stroke="#8ebde6" stroke-width="0.35" transform="matrix(1,0,0,1.04,0,-40.936)" x="869.49" y="1023.40" font-size="43" font-weight="bold" fill="#8ebde6">CO</text>
<text stroke="#8ebde6" stroke-width="0.35" transform="matrix(1,0,0,1.04,0,-41.524)" x="946.72" y="1038.10" font-size="26.5" font-weight="bold" fill="#8ebde6">x 0</text>
<text stroke="#737373" stroke-width="0.35" transform="matrix(1,0,0,1.04,0,-39.920)" x="981.63" y="998.00" font-size="25" font-weight="bold" fill="#737373"> 3</text>
<text stroke="#737373" stroke-width="0.35" transform="matrix(1,0,0,1.04,0,-40.752)" x="1010.14" y="1018.80" font-size="43" font-weight="bold" fill="#737373">CO</text>
<text stroke="#737373" stroke-width="0.35" transform="matrix(1,0,0,1.04,0,-41.372)" x="1075.28" y="1034.30" font-size="26.5" font-weight="bold" fill="#737373">2</text>
<text stroke="#737373" stroke-width="0.35" transform="matrix(1,0,0,1.04,0,-41.372)" x="1102.02" y="1034.30" font-size="26.5" font-weight="bold" fill="#737373">x 0</text>
<text stroke="#000" stroke-width="0.35" transform="matrix(1,0,0,1.04,0,-2.140)" x="455.00" y="53.50" font-size="39" text-anchor="start" font-weight="bold" fill="#000" >4.75 V</text>
<text stroke="#000" stroke-width="0.35" transform="matrix(1,0,0,1.085,0,-5.270)" x="1065.50" y="62.00" font-size="42" text-anchor="start" font-weight="bold" fill="#000" >(a)</text>
<text stroke="#000" stroke-width="0.35" transform="matrix(1,0,0,1.085,0,-35.615)" x="1065.00" y="419.00" font-size="42" text-anchor="start" font-weight="bold" fill="#000" >(b)</text>
<path transform="matrix(1,0,0,1.085,0,-34.782) translate(59.408,409.200) scale(0.019287,-0.018462)" d="M763 0H583V1147Q518 1085 412.5 1023T223 930V1104Q373 1175 485.5 1276T645 1472H763V0Z" fill="rgb(0, 0, 0)" stroke="rgb(0, 0, 0)" stroke-width="18.15"/>
<path transform="matrix(1,0,0,1.085,0,-40.026) translate(59.408,470.900) scale(0.019287,-0.018462)" d="M763 0H583V1147Q518 1085 412.5 1023T223 930V1104Q373 1175 485.5 1276T645 1472H763V0Z" fill="rgb(0, 0, 0)" stroke="rgb(0, 0, 0)" stroke-width="18.15"/>
<path transform="matrix(1,0,0,1.085,0,-82.611) translate(81.362,971.900) scale(0.019287,-0.018462)" d="M763 0H583V1147Q518 1085 412.5 1023T223 930V1104Q373 1175 485.5 1276T645 1472H763V0Z" fill="rgb(0, 0, 0)" stroke="rgb(0, 0, 0)" stroke-width="18.15"/>
<path transform="matrix(1,0,0,1.085,0,-33.447) translate(1168.600,393.500) scale(0.019287,-0.018462)" d="M763 0H583V1147Q518 1085 412.5 1023T223 930V1104Q373 1175 485.5 1276T645 1472H763V0Z" fill="rgb(0, 0, 0)" stroke="rgb(0, 0, 0)" stroke-width="18.15"/>
<path transform="matrix(1,0,0,1.085,0,-74.052) translate(1168.600,871.200) scale(0.019287,-0.018462)" d="M763 0H583V1147Q518 1085 412.5 1023T223 930V1104Q373 1175 485.5 1276T645 1472H763V0Z" fill="rgb(0, 0, 0)" stroke="rgb(0, 0, 0)" stroke-width="18.15"/>
<path transform="matrix(1,0,0,1.085,0,-95.268) translate(285.019,1120.800) scale(0.020508,-0.019630)" d="M763 0H583V1147Q518 1085 412.5 1023T223 930V1104Q373 1175 485.5 1276T645 1472H763V0Z" fill="rgb(0, 0, 0)" stroke="rgb(0, 0, 0)" stroke-width="17.07"/>
<path transform="matrix(1,0,0,1.04,0,-22.352) translate(767.714,558.800) scale(0.015381,-0.014723)" d="M763 0H583V1147Q518 1085 412.5 1023T223 930V1104Q373 1175 485.5 1276T645 1472H763V0Z" fill="rgb(0, 0, 0)" stroke="rgb(0, 0, 0)" stroke-width="22.76"/>
<path transform="matrix(1,0,0,1.04,0,-24.540) translate(401.500,597.000) scale(0.009277,-0.008880)" d="M763 0H583V1147Q518 1085 412.5 1023T223 930V1104Q373 1175 485.5 1276T645 1472H763V0Z" fill="rgb(0, 0, 0)" stroke="rgb(0, 0, 0)" stroke-width="37.73"/>
<path transform="matrix(1,0,0,1.04,0,-24.540) translate(505.478,613.500) scale(0.015381,-0.014723)" d="M763 0H583V1147Q518 1085 412.5 1023T223 930V1104Q373 1175 485.5 1276T645 1472H763V0Z" fill="rgb(0, 0, 0)" stroke="rgb(0, 0, 0)" stroke-width="22.76"/>
<path transform="matrix(1,0,0,1.04,0,-24.540) translate(708.300,597.000) scale(0.009277,-0.008880)" d="M763 0H583V1147Q518 1085 412.5 1023T223 930V1104Q373 1175 485.5 1276T645 1472H763V0Z" fill="rgb(0, 0, 0)" stroke="rgb(0, 0, 0)" stroke-width="37.73"/>
<path transform="matrix(1,0,0,1.04,0,-24.540) translate(801.159,613.500) scale(0.015381,-0.014723)" d="M763 0H583V1147Q518 1085 412.5 1023T223 930V1104Q373 1175 485.5 1276T645 1472H763V0Z" fill="rgb(0, 0, 0)" stroke="rgb(0, 0, 0)" stroke-width="22.76"/>
<path transform="matrix(1,0,0,1.04,0,-38.876) translate(792.638,971.900) scale(0.012939,-0.012386)" d="M852 0H571V1059Q417 915 208 846V1101Q318 1137 447 1237T624 1472H852V0Z" fill="rgb(0, 0, 0)" stroke="rgb(0, 0, 0)" stroke-width="27.05"/>
<path transform="matrix(1,0,0,1.04,0,-40.076) translate(840.930,1001.900) scale(0.012207,-0.011685)" d="M852 0H571V1059Q417 915 208 846V1101Q318 1137 447 1237T624 1472H852V0Z" fill="rgb(142, 189, 230)" stroke="rgb(142, 189, 230)" stroke-width="28.67"/>
<path transform="matrix(1,0,0,1.04,0,-41.524) translate(961.438,1038.100) scale(0.012939,-0.012386)" d="M852 0H571V1059Q417 915 208 846V1101Q318 1137 447 1237T624 1472H852V0Z" fill="rgb(142, 189, 230)" stroke="rgb(142, 189, 230)" stroke-width="27.05"/>
<path transform="matrix(1,0,0,1.04,0,-39.920) translate(981.630,998.000) scale(0.012207,-0.011685)" d="M852 0H571V1059Q417 915 208 846V1101Q318 1137 447 1237T624 1472H852V0Z" fill="rgb(115, 115, 115)" stroke="rgb(115, 115, 115)" stroke-width="28.67"/>
<path transform="matrix(1,0,0,1.04,0,-41.372) translate(1116.738,1034.300) scale(0.012939,-0.012386)" d="M852 0H571V1059Q417 915 208 846V1101Q318 1137 447 1237T624 1472H852V0Z" fill="rgb(115, 115, 115)" stroke="rgb(115, 115, 115)" stroke-width="27.05"/>
</g>
</svg>
</body></html>
